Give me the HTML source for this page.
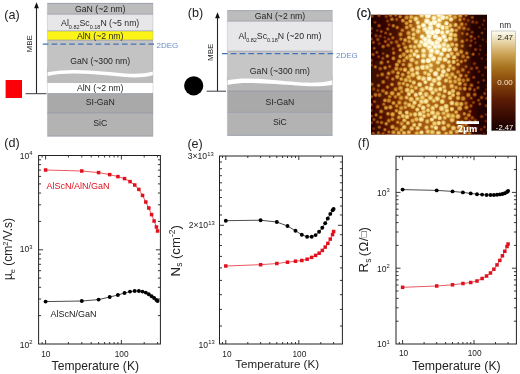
<!DOCTYPE html>
<html lang="en"><head><meta charset="utf-8"><title>Figure</title>
<style>html,body{margin:0;padding:0;background:#fff;}body{width:520px;height:374px;overflow:hidden;}svg{display:block;font-family:'Liberation Sans', sans-serif;filter:blur(0.35px);}</style>
</head><body>
<svg width="520" height="374" viewBox="0 0 520 374">
<defs>
<linearGradient id="cbar" x1="0" y1="0" x2="0" y2="1"><stop offset="0" stop-color="#fffdf4"/><stop offset="0.10" stop-color="#ead9ae"/><stop offset="0.22" stop-color="#cfa75c"/><stop offset="0.36" stop-color="#a8741f"/><stop offset="0.5" stop-color="#8a4a0c"/><stop offset="0.68" stop-color="#5e1e05"/><stop offset="0.85" stop-color="#380a02"/><stop offset="1" stop-color="#160000"/></linearGradient>
<filter id="bl" x="-10%" y="-10%" width="120%" height="120%"><feGaussianBlur stdDeviation="3"/></filter>
<filter id="bs" x="-5%" y="-5%" width="110%" height="110%"><feGaussianBlur stdDeviation="0.6"/></filter>
<clipPath id="afmclip"><rect x="371" y="14.8" width="116" height="119.8"/></clipPath>
</defs>
<rect width="520" height="374" fill="#fff"/>
<g id="panel-a">
<rect x="47.4" y="3" width="105.6" height="11.5" fill="#bcbcbc"/>
<rect x="47.4" y="14.5" width="105.6" height="16.5" fill="#e7e7e9"/>
<rect x="47.4" y="31" width="105.6" height="9" fill="#fbf416"/>
<rect x="47.4" y="82.5" width="105.6" height="11" fill="#ffffff"/>
<rect x="47.4" y="93.5" width="105.6" height="19.5" fill="#a9a9a9"/>
<rect x="47.4" y="113" width="105.6" height="23.3" fill="#b3b3b3"/>
<rect x="47.4" y="68" width="105.6" height="15" fill="#bcbcbc"/>
<path d="M47.4,40 L47.4,72.8 C57,71.1 66,70.4 75,70.5 C95,70.9 113,72.7 125,73.9 C136,74.9 145,74.1 153,72.1 L153,40 Z" fill="#c3c3c3"/>
<path d="M47.4,72.3 C57,70.6 66,69.9 75,70 C95,70.4 113,72.2 125,73.4 C136,74.4 145,73.6 153,71.6 L153,75.2 C145,77.3 136,78 125,77 C113,75.9 95,74 75,73.6 C66,73.5 57,74.2 47.4,75.9 Z" fill="#fff"/>
<line x1="47.4" y1="3.4" x2="153.0" y2="3.4" stroke="#8f96a6" stroke-width="0.7"/>
<line x1="47.4" y1="14.2" x2="153.0" y2="14.2" stroke="#8f96a6" stroke-width="0.7"/>
<line x1="47.4" y1="30.9" x2="153.0" y2="30.9" stroke="#8f96a6" stroke-width="0.7"/>
<line x1="47.4" y1="40.1" x2="153.0" y2="40.1" stroke="#8f96a6" stroke-width="0.7"/>
<line x1="47.4" y1="93.6" x2="153.0" y2="93.6" stroke="#8f96a6" stroke-width="0.7"/>
<line x1="47.4" y1="112.9" x2="153.0" y2="112.9" stroke="#8f96a6" stroke-width="0.7"/>
<line x1="47.4" y1="136.1" x2="153.0" y2="136.1" stroke="#8f96a6" stroke-width="0.7"/>
<line x1="47.4" y1="3" x2="47.4" y2="136.3" stroke="#8f96a6" stroke-width="0.5" stroke-opacity="0.6"/>
<line x1="153.0" y1="3" x2="153.0" y2="136.3" stroke="#8f96a6" stroke-width="0.5" stroke-opacity="0.6"/>
<line x1="42.8" y1="44.2" x2="155" y2="44.2" stroke="#4273b6" stroke-width="1.25" stroke-dasharray="5.6 3.2"/>
<text x="156.5" y="48.0" font-size="8" fill="#6a8cc4" text-anchor="start" >2DEG</text>
<text x="100.2" y="12.0" font-size="8.7" fill="#262626" text-anchor="middle" >GaN (~2 nm)</text>
<text x="100.2" y="25.8" font-size="8.7" fill="#262626" text-anchor="middle">Al<tspan font-size="5.5" dy="2.8">0.82</tspan><tspan dy="-2.8">Sc</tspan><tspan font-size="5.5" dy="2.8">0.18</tspan><tspan dy="-2.8">N (~5 nm)</tspan></text>
<text x="100.2" y="38.6" font-size="8.7" fill="#262626" text-anchor="middle" >AlN (~2 nm)</text>
<text x="100.2" y="64.0" font-size="8.7" fill="#262626" text-anchor="middle" >GaN (~300 nm)</text>
<text x="100.2" y="91.1" font-size="8.7" fill="#262626" text-anchor="middle" >AlN (~2 nm)</text>
<text x="100.2" y="105.2" font-size="8.7" fill="#262626" text-anchor="middle" >SI-GaN</text>
<text x="100.2" y="125.7" font-size="8.7" fill="#262626" text-anchor="middle" >SiC</text>
<line x1="36.5" y1="93.7" x2="36.5" y2="7" stroke="#262626" stroke-width="1.1"/>
<path d="M36.5,2.2 L38.9,8.2 L34.1,8.2 Z" fill="#111"/>
<line x1="25.6" y1="93.7" x2="46.5" y2="93.7" stroke="#3c3c44" stroke-width="1"/>
<text transform="translate(32.4,52.4) rotate(-90)" font-size="8" fill="#222">MBE</text>
<rect x="5.6" y="80" width="16.4" height="18" fill="#fb0006"/>
<text x="4.3" y="19.2" font-size="12.6" fill="#222" text-anchor="start" >(a)</text>
</g>
<g id="panel-b">
<rect x="227.4" y="10.4" width="104.99999999999997" height="10.8" fill="#bcbcbc"/>
<rect x="227.4" y="21.2" width="104.99999999999997" height="30" fill="#e7e7e9"/>
<rect x="227.4" y="91" width="104.99999999999997" height="21.4" fill="#a9a9a9"/>
<rect x="227.4" y="112.4" width="104.99999999999997" height="23.2" fill="#b3b3b3"/>
<rect x="227.4" y="76" width="104.99999999999997" height="15" fill="#b7b7b7"/>
<path d="M227.4,51.2 L227.4,80.8 C234,79.5 241,78.9 248,79 C266,79.4 284,81.7 296,82.6 C306,83.4 320,84.1 332.4,80.8 L332.4,51.2 Z" fill="#c6c6c6"/>
<path d="M227.4,80.3 C234,79 241,78.4 248,78.5 C266,78.9 284,81.2 296,82.1 C306,82.9 320,83.6 332.4,80.3 L332.4,85 C320,87 306,86.2 296,85.5 C284,84.6 266,83.2 248,83 C241,83 234,83.6 227.4,84.9 Z" fill="#fff"/>
<line x1="227.4" y1="10.6" x2="332.4" y2="10.6" stroke="#8f96a6" stroke-width="0.7"/>
<line x1="227.4" y1="21.2" x2="332.4" y2="21.2" stroke="#8f96a6" stroke-width="0.7"/>
<line x1="227.4" y1="51.2" x2="332.4" y2="51.2" stroke="#8f96a6" stroke-width="0.7"/>
<line x1="227.4" y1="91" x2="332.4" y2="91" stroke="#8f96a6" stroke-width="0.7"/>
<line x1="227.4" y1="112.4" x2="332.4" y2="112.4" stroke="#8f96a6" stroke-width="0.7"/>
<line x1="227.4" y1="135.4" x2="332.4" y2="135.4" stroke="#8f96a6" stroke-width="0.7"/>
<line x1="227.4" y1="10.4" x2="227.4" y2="135.6" stroke="#8f96a6" stroke-width="0.5" stroke-opacity="0.6"/>
<line x1="332.4" y1="10.4" x2="332.4" y2="135.6" stroke="#8f96a6" stroke-width="0.5" stroke-opacity="0.6"/>
<line x1="222" y1="53.7" x2="334.5" y2="53.7" stroke="#4273b6" stroke-width="1.25" stroke-dasharray="5.6 3.2"/>
<text x="336.0" y="57.8" font-size="8" fill="#6a8cc4" text-anchor="start" >2DEG</text>
<text x="279.9" y="19.1" font-size="8.7" fill="#262626" text-anchor="middle" >GaN (~2 nm)</text>
<text x="279.9" y="39.4" font-size="8.7" fill="#262626" text-anchor="middle">Al<tspan font-size="5.5" dy="2.8">0.82</tspan><tspan dy="-2.8">Sc</tspan><tspan font-size="5.5" dy="2.8">0.18</tspan><tspan dy="-2.8">N (~20 nm)</tspan></text>
<text x="279.9" y="73.8" font-size="8.7" fill="#262626" text-anchor="middle" >GaN (~300 nm)</text>
<text x="279.9" y="105.2" font-size="8.7" fill="#262626" text-anchor="middle" >SI-GaN</text>
<text x="279.9" y="125.2" font-size="8.7" fill="#262626" text-anchor="middle" >SiC</text>
<line x1="217.5" y1="91" x2="217.5" y2="17" stroke="#262626" stroke-width="1.1"/>
<path d="M217.5,12.3 L219.9,18.2 L215.1,18.2 Z" fill="#111"/>
<line x1="206.6" y1="91.2" x2="226" y2="91.2" stroke="#3c3c44" stroke-width="1"/>
<text transform="translate(213,61) rotate(-90)" font-size="8" fill="#222">MBE</text>
<circle cx="193.7" cy="85.8" r="9.6" fill="#000"/>
<text x="187.8" y="17.0" font-size="12.6" fill="#222" text-anchor="start" >(b)</text>
</g>
<g id="panel-c">
<g clip-path="url(#afmclip)">
<rect x="371" y="14.8" width="116" height="119.8" fill="#8a4a0c"/>
<g filter="url(#bl)">
<rect x="363" y="6.800000000000001" width="6" height="6" fill="#1d0100"/>
<rect x="369" y="6.800000000000001" width="6" height="6" fill="#1e0100"/>
<rect x="375" y="6.800000000000001" width="6" height="6" fill="#250300"/>
<rect x="381" y="6.800000000000001" width="6" height="6" fill="#2d0500"/>
<rect x="387" y="6.800000000000001" width="6" height="6" fill="#350700"/>
<rect x="393" y="6.800000000000001" width="6" height="6" fill="#400a00"/>
<rect x="399" y="6.800000000000001" width="6" height="6" fill="#571701"/>
<rect x="405" y="6.800000000000001" width="6" height="6" fill="#742804"/>
<rect x="411" y="6.800000000000001" width="6" height="6" fill="#9e5211"/>
<rect x="417" y="6.800000000000001" width="6" height="6" fill="#ba7822"/>
<rect x="423" y="6.800000000000001" width="6" height="6" fill="#ce9535"/>
<rect x="429" y="6.800000000000001" width="6" height="6" fill="#d5a141"/>
<rect x="435" y="6.800000000000001" width="6" height="6" fill="#d39e3e"/>
<rect x="441" y="6.800000000000001" width="6" height="6" fill="#c78a2b"/>
<rect x="447" y="6.800000000000001" width="6" height="6" fill="#ac6519"/>
<rect x="453" y="6.800000000000001" width="6" height="6" fill="#833709"/>
<rect x="459" y="6.800000000000001" width="6" height="6" fill="#511301"/>
<rect x="465" y="6.800000000000001" width="6" height="6" fill="#330700"/>
<rect x="471" y="6.800000000000001" width="6" height="6" fill="#1d0100"/>
<rect x="477" y="6.800000000000001" width="6" height="6" fill="#1a0000"/>
<rect x="483" y="6.800000000000001" width="6" height="6" fill="#1a0000"/>
<rect x="489" y="6.800000000000001" width="6" height="6" fill="#1a0000"/>
<rect x="363" y="12.8" width="6" height="6" fill="#1d0100"/>
<rect x="369" y="12.8" width="6" height="6" fill="#1e0100"/>
<rect x="375" y="12.8" width="6" height="6" fill="#250300"/>
<rect x="381" y="12.8" width="6" height="6" fill="#2d0500"/>
<rect x="387" y="12.8" width="6" height="6" fill="#350700"/>
<rect x="393" y="12.8" width="6" height="6" fill="#400a00"/>
<rect x="399" y="12.8" width="6" height="6" fill="#571701"/>
<rect x="405" y="12.8" width="6" height="6" fill="#742804"/>
<rect x="411" y="12.8" width="6" height="6" fill="#9e5211"/>
<rect x="417" y="12.8" width="6" height="6" fill="#ba7822"/>
<rect x="423" y="12.8" width="6" height="6" fill="#ce9535"/>
<rect x="429" y="12.8" width="6" height="6" fill="#d5a141"/>
<rect x="435" y="12.8" width="6" height="6" fill="#d39e3e"/>
<rect x="441" y="12.8" width="6" height="6" fill="#c78a2b"/>
<rect x="447" y="12.8" width="6" height="6" fill="#ac6519"/>
<rect x="453" y="12.8" width="6" height="6" fill="#833709"/>
<rect x="459" y="12.8" width="6" height="6" fill="#511301"/>
<rect x="465" y="12.8" width="6" height="6" fill="#330700"/>
<rect x="471" y="12.8" width="6" height="6" fill="#1d0100"/>
<rect x="477" y="12.8" width="6" height="6" fill="#1a0000"/>
<rect x="483" y="12.8" width="6" height="6" fill="#1a0000"/>
<rect x="489" y="12.8" width="6" height="6" fill="#1a0000"/>
<rect x="363" y="18.8" width="6" height="6" fill="#1d0100"/>
<rect x="369" y="18.8" width="6" height="6" fill="#1e0100"/>
<rect x="375" y="18.8" width="6" height="6" fill="#260300"/>
<rect x="381" y="18.8" width="6" height="6" fill="#2d0500"/>
<rect x="387" y="18.8" width="6" height="6" fill="#360700"/>
<rect x="393" y="18.8" width="6" height="6" fill="#410b00"/>
<rect x="399" y="18.8" width="6" height="6" fill="#581702"/>
<rect x="405" y="18.8" width="6" height="6" fill="#762a05"/>
<rect x="411" y="18.8" width="6" height="6" fill="#9f5311"/>
<rect x="417" y="18.8" width="6" height="6" fill="#bb7a23"/>
<rect x="423" y="18.8" width="6" height="6" fill="#cf9737"/>
<rect x="429" y="18.8" width="6" height="6" fill="#d6a242"/>
<rect x="435" y="18.8" width="6" height="6" fill="#d49f3f"/>
<rect x="441" y="18.8" width="6" height="6" fill="#c88b2c"/>
<rect x="447" y="18.8" width="6" height="6" fill="#ad6619"/>
<rect x="453" y="18.8" width="6" height="6" fill="#833709"/>
<rect x="459" y="18.8" width="6" height="6" fill="#511301"/>
<rect x="465" y="18.8" width="6" height="6" fill="#330700"/>
<rect x="471" y="18.8" width="6" height="6" fill="#1d0100"/>
<rect x="477" y="18.8" width="6" height="6" fill="#1a0000"/>
<rect x="483" y="18.8" width="6" height="6" fill="#1a0000"/>
<rect x="489" y="18.8" width="6" height="6" fill="#1a0000"/>
<rect x="363" y="24.8" width="6" height="6" fill="#1f0100"/>
<rect x="369" y="24.8" width="6" height="6" fill="#200200"/>
<rect x="375" y="24.8" width="6" height="6" fill="#270300"/>
<rect x="381" y="24.8" width="6" height="6" fill="#2e0500"/>
<rect x="387" y="24.8" width="6" height="6" fill="#370800"/>
<rect x="393" y="24.8" width="6" height="6" fill="#430c00"/>
<rect x="399" y="24.8" width="6" height="6" fill="#5a1802"/>
<rect x="405" y="24.8" width="6" height="6" fill="#782c06"/>
<rect x="411" y="24.8" width="6" height="6" fill="#a25612"/>
<rect x="417" y="24.8" width="6" height="6" fill="#be7d25"/>
<rect x="423" y="24.8" width="6" height="6" fill="#d09a3a"/>
<rect x="429" y="24.8" width="6" height="6" fill="#d7a545"/>
<rect x="435" y="24.8" width="6" height="6" fill="#d5a242"/>
<rect x="441" y="24.8" width="6" height="6" fill="#c98e2e"/>
<rect x="447" y="24.8" width="6" height="6" fill="#ae671a"/>
<rect x="453" y="24.8" width="6" height="6" fill="#843809"/>
<rect x="459" y="24.8" width="6" height="6" fill="#511301"/>
<rect x="465" y="24.8" width="6" height="6" fill="#330700"/>
<rect x="471" y="24.8" width="6" height="6" fill="#1d0100"/>
<rect x="477" y="24.8" width="6" height="6" fill="#1a0000"/>
<rect x="483" y="24.8" width="6" height="6" fill="#1a0000"/>
<rect x="489" y="24.8" width="6" height="6" fill="#1a0000"/>
<rect x="363" y="30.8" width="6" height="6" fill="#200200"/>
<rect x="369" y="30.8" width="6" height="6" fill="#210200"/>
<rect x="375" y="30.8" width="6" height="6" fill="#280400"/>
<rect x="381" y="30.8" width="6" height="6" fill="#300600"/>
<rect x="387" y="30.8" width="6" height="6" fill="#380800"/>
<rect x="393" y="30.8" width="6" height="6" fill="#450d00"/>
<rect x="399" y="30.8" width="6" height="6" fill="#5d1a02"/>
<rect x="405" y="30.8" width="6" height="6" fill="#7b2f06"/>
<rect x="411" y="30.8" width="6" height="6" fill="#a55a14"/>
<rect x="417" y="30.8" width="6" height="6" fill="#c08127"/>
<rect x="423" y="30.8" width="6" height="6" fill="#d29d3d"/>
<rect x="429" y="30.8" width="6" height="6" fill="#d9a848"/>
<rect x="435" y="30.8" width="6" height="6" fill="#d7a444"/>
<rect x="441" y="30.8" width="6" height="6" fill="#ca9030"/>
<rect x="447" y="30.8" width="6" height="6" fill="#b06a1b"/>
<rect x="453" y="30.8" width="6" height="6" fill="#853909"/>
<rect x="459" y="30.8" width="6" height="6" fill="#521401"/>
<rect x="465" y="30.8" width="6" height="6" fill="#330700"/>
<rect x="471" y="30.8" width="6" height="6" fill="#1d0100"/>
<rect x="477" y="30.8" width="6" height="6" fill="#1a0000"/>
<rect x="483" y="30.8" width="6" height="6" fill="#1a0000"/>
<rect x="489" y="30.8" width="6" height="6" fill="#1a0000"/>
<rect x="363" y="36.8" width="6" height="6" fill="#210200"/>
<rect x="369" y="36.8" width="6" height="6" fill="#220200"/>
<rect x="375" y="36.8" width="6" height="6" fill="#290400"/>
<rect x="381" y="36.8" width="6" height="6" fill="#310600"/>
<rect x="387" y="36.8" width="6" height="6" fill="#390800"/>
<rect x="393" y="36.8" width="6" height="6" fill="#460d00"/>
<rect x="399" y="36.8" width="6" height="6" fill="#5f1b02"/>
<rect x="405" y="36.8" width="6" height="6" fill="#7e3207"/>
<rect x="411" y="36.8" width="6" height="6" fill="#a75d15"/>
<rect x="417" y="36.8" width="6" height="6" fill="#c38428"/>
<rect x="423" y="36.8" width="6" height="6" fill="#d4a040"/>
<rect x="429" y="36.8" width="6" height="6" fill="#dbab4b"/>
<rect x="435" y="36.8" width="6" height="6" fill="#d8a646"/>
<rect x="441" y="36.8" width="6" height="6" fill="#cb9232"/>
<rect x="447" y="36.8" width="6" height="6" fill="#b16b1c"/>
<rect x="453" y="36.8" width="6" height="6" fill="#863a0a"/>
<rect x="459" y="36.8" width="6" height="6" fill="#521401"/>
<rect x="465" y="36.8" width="6" height="6" fill="#330700"/>
<rect x="471" y="36.8" width="6" height="6" fill="#1d0100"/>
<rect x="477" y="36.8" width="6" height="6" fill="#1a0000"/>
<rect x="483" y="36.8" width="6" height="6" fill="#1a0000"/>
<rect x="489" y="36.8" width="6" height="6" fill="#1a0000"/>
<rect x="363" y="42.8" width="6" height="6" fill="#210200"/>
<rect x="369" y="42.8" width="6" height="6" fill="#230200"/>
<rect x="375" y="42.8" width="6" height="6" fill="#2a0400"/>
<rect x="381" y="42.8" width="6" height="6" fill="#310600"/>
<rect x="387" y="42.8" width="6" height="6" fill="#3a0800"/>
<rect x="393" y="42.8" width="6" height="6" fill="#470e00"/>
<rect x="399" y="42.8" width="6" height="6" fill="#5f1b02"/>
<rect x="405" y="42.8" width="6" height="6" fill="#7e3207"/>
<rect x="411" y="42.8" width="6" height="6" fill="#a75e16"/>
<rect x="417" y="42.8" width="6" height="6" fill="#c38529"/>
<rect x="423" y="42.8" width="6" height="6" fill="#d4a040"/>
<rect x="429" y="42.8" width="6" height="6" fill="#dbab4b"/>
<rect x="435" y="42.8" width="6" height="6" fill="#d8a747"/>
<rect x="441" y="42.8" width="6" height="6" fill="#cc9232"/>
<rect x="447" y="42.8" width="6" height="6" fill="#b16c1c"/>
<rect x="453" y="42.8" width="6" height="6" fill="#873b0a"/>
<rect x="459" y="42.8" width="6" height="6" fill="#521401"/>
<rect x="465" y="42.8" width="6" height="6" fill="#330700"/>
<rect x="471" y="42.8" width="6" height="6" fill="#1d0100"/>
<rect x="477" y="42.8" width="6" height="6" fill="#1a0000"/>
<rect x="483" y="42.8" width="6" height="6" fill="#1a0000"/>
<rect x="489" y="42.8" width="6" height="6" fill="#1a0000"/>
<rect x="363" y="48.8" width="6" height="6" fill="#240300"/>
<rect x="369" y="48.8" width="6" height="6" fill="#250300"/>
<rect x="375" y="48.8" width="6" height="6" fill="#2c0500"/>
<rect x="381" y="48.8" width="6" height="6" fill="#340700"/>
<rect x="387" y="48.8" width="6" height="6" fill="#3d0900"/>
<rect x="393" y="48.8" width="6" height="6" fill="#4b1001"/>
<rect x="399" y="48.8" width="6" height="6" fill="#621d02"/>
<rect x="405" y="48.8" width="6" height="6" fill="#803408"/>
<rect x="411" y="48.8" width="6" height="6" fill="#a65c15"/>
<rect x="417" y="48.8" width="6" height="6" fill="#c08127"/>
<rect x="423" y="48.8" width="6" height="6" fill="#d19a3a"/>
<rect x="429" y="48.8" width="6" height="6" fill="#d7a444"/>
<rect x="435" y="48.8" width="6" height="6" fill="#d4a040"/>
<rect x="441" y="48.8" width="6" height="6" fill="#c88c2c"/>
<rect x="447" y="48.8" width="6" height="6" fill="#af681b"/>
<rect x="453" y="48.8" width="6" height="6" fill="#863a09"/>
<rect x="459" y="48.8" width="6" height="6" fill="#531401"/>
<rect x="465" y="48.8" width="6" height="6" fill="#340700"/>
<rect x="471" y="48.8" width="6" height="6" fill="#1e0100"/>
<rect x="477" y="48.8" width="6" height="6" fill="#1a0000"/>
<rect x="483" y="48.8" width="6" height="6" fill="#1a0000"/>
<rect x="489" y="48.8" width="6" height="6" fill="#1a0000"/>
<rect x="363" y="54.8" width="6" height="6" fill="#2a0400"/>
<rect x="369" y="54.8" width="6" height="6" fill="#2b0400"/>
<rect x="375" y="54.8" width="6" height="6" fill="#320600"/>
<rect x="381" y="54.8" width="6" height="6" fill="#390800"/>
<rect x="387" y="54.8" width="6" height="6" fill="#430c00"/>
<rect x="393" y="54.8" width="6" height="6" fill="#521401"/>
<rect x="399" y="54.8" width="6" height="6" fill="#692003"/>
<rect x="405" y="54.8" width="6" height="6" fill="#843809"/>
<rect x="411" y="54.8" width="6" height="6" fill="#a55a14"/>
<rect x="417" y="54.8" width="6" height="6" fill="#ba7923"/>
<rect x="423" y="54.8" width="6" height="6" fill="#ca8f2f"/>
<rect x="429" y="54.8" width="6" height="6" fill="#cf9737"/>
<rect x="435" y="54.8" width="6" height="6" fill="#cc9333"/>
<rect x="441" y="54.8" width="6" height="6" fill="#bf8026"/>
<rect x="447" y="54.8" width="6" height="6" fill="#aa6117"/>
<rect x="453" y="54.8" width="6" height="6" fill="#843809"/>
<rect x="459" y="54.8" width="6" height="6" fill="#561601"/>
<rect x="465" y="54.8" width="6" height="6" fill="#370800"/>
<rect x="471" y="54.8" width="6" height="6" fill="#200200"/>
<rect x="477" y="54.8" width="6" height="6" fill="#1a0000"/>
<rect x="483" y="54.8" width="6" height="6" fill="#1a0000"/>
<rect x="489" y="54.8" width="6" height="6" fill="#1a0000"/>
<rect x="363" y="60.8" width="6" height="6" fill="#300600"/>
<rect x="369" y="60.8" width="6" height="6" fill="#310600"/>
<rect x="375" y="60.8" width="6" height="6" fill="#370800"/>
<rect x="381" y="60.8" width="6" height="6" fill="#3f0a00"/>
<rect x="387" y="60.8" width="6" height="6" fill="#4b1001"/>
<rect x="393" y="60.8" width="6" height="6" fill="#5a1802"/>
<rect x="399" y="60.8" width="6" height="6" fill="#702403"/>
<rect x="405" y="60.8" width="6" height="6" fill="#883c0a"/>
<rect x="411" y="60.8" width="6" height="6" fill="#a35712"/>
<rect x="417" y="60.8" width="6" height="6" fill="#b46f1e"/>
<rect x="423" y="60.8" width="6" height="6" fill="#c08127"/>
<rect x="429" y="60.8" width="6" height="6" fill="#c5872a"/>
<rect x="435" y="60.8" width="6" height="6" fill="#c18227"/>
<rect x="441" y="60.8" width="6" height="6" fill="#b5721f"/>
<rect x="447" y="60.8" width="6" height="6" fill="#a45913"/>
<rect x="453" y="60.8" width="6" height="6" fill="#823608"/>
<rect x="459" y="60.8" width="6" height="6" fill="#591702"/>
<rect x="465" y="60.8" width="6" height="6" fill="#3a0800"/>
<rect x="471" y="60.8" width="6" height="6" fill="#220200"/>
<rect x="477" y="60.8" width="6" height="6" fill="#1a0000"/>
<rect x="483" y="60.8" width="6" height="6" fill="#1a0000"/>
<rect x="489" y="60.8" width="6" height="6" fill="#1a0000"/>
<rect x="363" y="66.8" width="6" height="6" fill="#350700"/>
<rect x="369" y="66.8" width="6" height="6" fill="#360700"/>
<rect x="375" y="66.8" width="6" height="6" fill="#3c0900"/>
<rect x="381" y="66.8" width="6" height="6" fill="#440c00"/>
<rect x="387" y="66.8" width="6" height="6" fill="#511301"/>
<rect x="393" y="66.8" width="6" height="6" fill="#611c02"/>
<rect x="399" y="66.8" width="6" height="6" fill="#752905"/>
<rect x="405" y="66.8" width="6" height="6" fill="#8b3f0b"/>
<rect x="411" y="66.8" width="6" height="6" fill="#a15512"/>
<rect x="417" y="66.8" width="6" height="6" fill="#af681b"/>
<rect x="423" y="66.8" width="6" height="6" fill="#b87521"/>
<rect x="429" y="66.8" width="6" height="6" fill="#bb7a23"/>
<rect x="435" y="66.8" width="6" height="6" fill="#b77421"/>
<rect x="441" y="66.8" width="6" height="6" fill="#ae671a"/>
<rect x="447" y="66.8" width="6" height="6" fill="#9f5311"/>
<rect x="453" y="66.8" width="6" height="6" fill="#803408"/>
<rect x="459" y="66.8" width="6" height="6" fill="#5b1902"/>
<rect x="465" y="66.8" width="6" height="6" fill="#3c0900"/>
<rect x="471" y="66.8" width="6" height="6" fill="#240300"/>
<rect x="477" y="66.8" width="6" height="6" fill="#1a0000"/>
<rect x="483" y="66.8" width="6" height="6" fill="#1a0000"/>
<rect x="489" y="66.8" width="6" height="6" fill="#1a0000"/>
<rect x="363" y="72.8" width="6" height="6" fill="#360700"/>
<rect x="369" y="72.8" width="6" height="6" fill="#370800"/>
<rect x="375" y="72.8" width="6" height="6" fill="#3d0900"/>
<rect x="381" y="72.8" width="6" height="6" fill="#460d00"/>
<rect x="387" y="72.8" width="6" height="6" fill="#531501"/>
<rect x="393" y="72.8" width="6" height="6" fill="#631d02"/>
<rect x="399" y="72.8" width="6" height="6" fill="#772b05"/>
<rect x="405" y="72.8" width="6" height="6" fill="#8c400b"/>
<rect x="411" y="72.8" width="6" height="6" fill="#a05411"/>
<rect x="417" y="72.8" width="6" height="6" fill="#ad661a"/>
<rect x="423" y="72.8" width="6" height="6" fill="#b6721f"/>
<rect x="429" y="72.8" width="6" height="6" fill="#b87521"/>
<rect x="435" y="72.8" width="6" height="6" fill="#b4701f"/>
<rect x="441" y="72.8" width="6" height="6" fill="#ab6318"/>
<rect x="447" y="72.8" width="6" height="6" fill="#9d5110"/>
<rect x="453" y="72.8" width="6" height="6" fill="#7f3308"/>
<rect x="459" y="72.8" width="6" height="6" fill="#5c1902"/>
<rect x="465" y="72.8" width="6" height="6" fill="#3d0900"/>
<rect x="471" y="72.8" width="6" height="6" fill="#250300"/>
<rect x="477" y="72.8" width="6" height="6" fill="#1a0000"/>
<rect x="483" y="72.8" width="6" height="6" fill="#1a0000"/>
<rect x="489" y="72.8" width="6" height="6" fill="#1a0000"/>
<rect x="363" y="78.8" width="6" height="6" fill="#350700"/>
<rect x="369" y="78.8" width="6" height="6" fill="#360700"/>
<rect x="375" y="78.8" width="6" height="6" fill="#3e0900"/>
<rect x="381" y="78.8" width="6" height="6" fill="#470e00"/>
<rect x="387" y="78.8" width="6" height="6" fill="#561601"/>
<rect x="393" y="78.8" width="6" height="6" fill="#651e02"/>
<rect x="399" y="78.8" width="6" height="6" fill="#792d06"/>
<rect x="405" y="78.8" width="6" height="6" fill="#8d410c"/>
<rect x="411" y="78.8" width="6" height="6" fill="#a05411"/>
<rect x="417" y="78.8" width="6" height="6" fill="#ac6419"/>
<rect x="423" y="78.8" width="6" height="6" fill="#b4701e"/>
<rect x="429" y="78.8" width="6" height="6" fill="#b67320"/>
<rect x="435" y="78.8" width="6" height="6" fill="#b36e1e"/>
<rect x="441" y="78.8" width="6" height="6" fill="#aa6218"/>
<rect x="447" y="78.8" width="6" height="6" fill="#9d5110"/>
<rect x="453" y="78.8" width="6" height="6" fill="#803408"/>
<rect x="459" y="78.8" width="6" height="6" fill="#5e1a02"/>
<rect x="465" y="78.8" width="6" height="6" fill="#3e0a00"/>
<rect x="471" y="78.8" width="6" height="6" fill="#260300"/>
<rect x="477" y="78.8" width="6" height="6" fill="#1a0000"/>
<rect x="483" y="78.8" width="6" height="6" fill="#1a0000"/>
<rect x="489" y="78.8" width="6" height="6" fill="#1a0000"/>
<rect x="363" y="84.8" width="6" height="6" fill="#330700"/>
<rect x="369" y="84.8" width="6" height="6" fill="#350700"/>
<rect x="375" y="84.8" width="6" height="6" fill="#3e0a00"/>
<rect x="381" y="84.8" width="6" height="6" fill="#4b1001"/>
<rect x="387" y="84.8" width="6" height="6" fill="#5a1802"/>
<rect x="393" y="84.8" width="6" height="6" fill="#6a2103"/>
<rect x="399" y="84.8" width="6" height="6" fill="#7e3207"/>
<rect x="405" y="84.8" width="6" height="6" fill="#90440d"/>
<rect x="411" y="84.8" width="6" height="6" fill="#a05411"/>
<rect x="417" y="84.8" width="6" height="6" fill="#aa6218"/>
<rect x="423" y="84.8" width="6" height="6" fill="#b16b1c"/>
<rect x="429" y="84.8" width="6" height="6" fill="#b36e1e"/>
<rect x="435" y="84.8" width="6" height="6" fill="#b06a1c"/>
<rect x="441" y="84.8" width="6" height="6" fill="#a96017"/>
<rect x="447" y="84.8" width="6" height="6" fill="#9d5110"/>
<rect x="453" y="84.8" width="6" height="6" fill="#833709"/>
<rect x="459" y="84.8" width="6" height="6" fill="#621c02"/>
<rect x="465" y="84.8" width="6" height="6" fill="#420b00"/>
<rect x="471" y="84.8" width="6" height="6" fill="#290400"/>
<rect x="477" y="84.8" width="6" height="6" fill="#1b0000"/>
<rect x="483" y="84.8" width="6" height="6" fill="#1a0000"/>
<rect x="489" y="84.8" width="6" height="6" fill="#1a0000"/>
<rect x="363" y="90.8" width="6" height="6" fill="#310600"/>
<rect x="369" y="90.8" width="6" height="6" fill="#330700"/>
<rect x="375" y="90.8" width="6" height="6" fill="#3f0a00"/>
<rect x="381" y="90.8" width="6" height="6" fill="#4e1201"/>
<rect x="387" y="90.8" width="6" height="6" fill="#5e1a02"/>
<rect x="393" y="90.8" width="6" height="6" fill="#6f2303"/>
<rect x="399" y="90.8" width="6" height="6" fill="#823609"/>
<rect x="405" y="90.8" width="6" height="6" fill="#93470e"/>
<rect x="411" y="90.8" width="6" height="6" fill="#a05411"/>
<rect x="417" y="90.8" width="6" height="6" fill="#a85f16"/>
<rect x="423" y="90.8" width="6" height="6" fill="#ad661a"/>
<rect x="429" y="90.8" width="6" height="6" fill="#af691b"/>
<rect x="435" y="90.8" width="6" height="6" fill="#ad661a"/>
<rect x="441" y="90.8" width="6" height="6" fill="#a75d16"/>
<rect x="447" y="90.8" width="6" height="6" fill="#9d5110"/>
<rect x="453" y="90.8" width="6" height="6" fill="#853909"/>
<rect x="459" y="90.8" width="6" height="6" fill="#661f02"/>
<rect x="465" y="90.8" width="6" height="6" fill="#470e00"/>
<rect x="471" y="90.8" width="6" height="6" fill="#2c0500"/>
<rect x="477" y="90.8" width="6" height="6" fill="#1d0100"/>
<rect x="483" y="90.8" width="6" height="6" fill="#1a0000"/>
<rect x="489" y="90.8" width="6" height="6" fill="#1a0000"/>
<rect x="363" y="96.8" width="6" height="6" fill="#300600"/>
<rect x="369" y="96.8" width="6" height="6" fill="#320600"/>
<rect x="375" y="96.8" width="6" height="6" fill="#400a00"/>
<rect x="381" y="96.8" width="6" height="6" fill="#511301"/>
<rect x="387" y="96.8" width="6" height="6" fill="#621c02"/>
<rect x="393" y="96.8" width="6" height="6" fill="#732704"/>
<rect x="399" y="96.8" width="6" height="6" fill="#863a0a"/>
<rect x="405" y="96.8" width="6" height="6" fill="#964a0e"/>
<rect x="411" y="96.8" width="6" height="6" fill="#a05411"/>
<rect x="417" y="96.8" width="6" height="6" fill="#a75d15"/>
<rect x="423" y="96.8" width="6" height="6" fill="#ab6318"/>
<rect x="429" y="96.8" width="6" height="6" fill="#ac6419"/>
<rect x="435" y="96.8" width="6" height="6" fill="#ab6218"/>
<rect x="441" y="96.8" width="6" height="6" fill="#a65b15"/>
<rect x="447" y="96.8" width="6" height="6" fill="#9d5110"/>
<rect x="453" y="96.8" width="6" height="6" fill="#873b0a"/>
<rect x="459" y="96.8" width="6" height="6" fill="#6a2103"/>
<rect x="465" y="96.8" width="6" height="6" fill="#4a1001"/>
<rect x="471" y="96.8" width="6" height="6" fill="#2e0500"/>
<rect x="477" y="96.8" width="6" height="6" fill="#1f0100"/>
<rect x="483" y="96.8" width="6" height="6" fill="#1a0000"/>
<rect x="489" y="96.8" width="6" height="6" fill="#1a0000"/>
<rect x="363" y="102.8" width="6" height="6" fill="#2f0600"/>
<rect x="369" y="102.8" width="6" height="6" fill="#320600"/>
<rect x="375" y="102.8" width="6" height="6" fill="#400a00"/>
<rect x="381" y="102.8" width="6" height="6" fill="#521401"/>
<rect x="387" y="102.8" width="6" height="6" fill="#631d02"/>
<rect x="393" y="102.8" width="6" height="6" fill="#742804"/>
<rect x="399" y="102.8" width="6" height="6" fill="#873b0a"/>
<rect x="405" y="102.8" width="6" height="6" fill="#974b0f"/>
<rect x="411" y="102.8" width="6" height="6" fill="#a05411"/>
<rect x="417" y="102.8" width="6" height="6" fill="#a65c15"/>
<rect x="423" y="102.8" width="6" height="6" fill="#aa6117"/>
<rect x="429" y="102.8" width="6" height="6" fill="#ab6318"/>
<rect x="435" y="102.8" width="6" height="6" fill="#aa6117"/>
<rect x="441" y="102.8" width="6" height="6" fill="#a55b14"/>
<rect x="447" y="102.8" width="6" height="6" fill="#9d5110"/>
<rect x="453" y="102.8" width="6" height="6" fill="#873b0a"/>
<rect x="459" y="102.8" width="6" height="6" fill="#6b2103"/>
<rect x="465" y="102.8" width="6" height="6" fill="#4b1001"/>
<rect x="471" y="102.8" width="6" height="6" fill="#2e0500"/>
<rect x="477" y="102.8" width="6" height="6" fill="#1f0100"/>
<rect x="483" y="102.8" width="6" height="6" fill="#1a0000"/>
<rect x="489" y="102.8" width="6" height="6" fill="#1a0000"/>
<rect x="363" y="108.8" width="6" height="6" fill="#2d0500"/>
<rect x="369" y="108.8" width="6" height="6" fill="#300600"/>
<rect x="375" y="108.8" width="6" height="6" fill="#3f0a00"/>
<rect x="381" y="108.8" width="6" height="6" fill="#511301"/>
<rect x="387" y="108.8" width="6" height="6" fill="#621c02"/>
<rect x="393" y="108.8" width="6" height="6" fill="#732704"/>
<rect x="399" y="108.8" width="6" height="6" fill="#873b0a"/>
<rect x="405" y="108.8" width="6" height="6" fill="#964a0e"/>
<rect x="411" y="108.8" width="6" height="6" fill="#a05411"/>
<rect x="417" y="108.8" width="6" height="6" fill="#a65b15"/>
<rect x="423" y="108.8" width="6" height="6" fill="#a96017"/>
<rect x="429" y="108.8" width="6" height="6" fill="#aa6218"/>
<rect x="435" y="108.8" width="6" height="6" fill="#a96017"/>
<rect x="441" y="108.8" width="6" height="6" fill="#a55a14"/>
<rect x="447" y="108.8" width="6" height="6" fill="#9c5010"/>
<rect x="453" y="108.8" width="6" height="6" fill="#873b0a"/>
<rect x="459" y="108.8" width="6" height="6" fill="#6b2103"/>
<rect x="465" y="108.8" width="6" height="6" fill="#4b1001"/>
<rect x="471" y="108.8" width="6" height="6" fill="#2e0500"/>
<rect x="477" y="108.8" width="6" height="6" fill="#1f0100"/>
<rect x="483" y="108.8" width="6" height="6" fill="#1a0000"/>
<rect x="489" y="108.8" width="6" height="6" fill="#1a0000"/>
<rect x="363" y="114.8" width="6" height="6" fill="#2a0400"/>
<rect x="369" y="114.8" width="6" height="6" fill="#2c0500"/>
<rect x="375" y="114.8" width="6" height="6" fill="#3c0900"/>
<rect x="381" y="114.8" width="6" height="6" fill="#4e1101"/>
<rect x="387" y="114.8" width="6" height="6" fill="#601b02"/>
<rect x="393" y="114.8" width="6" height="6" fill="#722604"/>
<rect x="399" y="114.8" width="6" height="6" fill="#863a09"/>
<rect x="405" y="114.8" width="6" height="6" fill="#95490e"/>
<rect x="411" y="114.8" width="6" height="6" fill="#9e5211"/>
<rect x="417" y="114.8" width="6" height="6" fill="#a45914"/>
<rect x="423" y="114.8" width="6" height="6" fill="#a75e16"/>
<rect x="429" y="114.8" width="6" height="6" fill="#a95f17"/>
<rect x="435" y="114.8" width="6" height="6" fill="#a85e16"/>
<rect x="441" y="114.8" width="6" height="6" fill="#a45913"/>
<rect x="447" y="114.8" width="6" height="6" fill="#9b4f10"/>
<rect x="453" y="114.8" width="6" height="6" fill="#873b0a"/>
<rect x="459" y="114.8" width="6" height="6" fill="#6b2103"/>
<rect x="465" y="114.8" width="6" height="6" fill="#4b1001"/>
<rect x="471" y="114.8" width="6" height="6" fill="#2e0500"/>
<rect x="477" y="114.8" width="6" height="6" fill="#1f0100"/>
<rect x="483" y="114.8" width="6" height="6" fill="#1a0000"/>
<rect x="489" y="114.8" width="6" height="6" fill="#1a0000"/>
<rect x="363" y="120.8" width="6" height="6" fill="#250300"/>
<rect x="369" y="120.8" width="6" height="6" fill="#280400"/>
<rect x="375" y="120.8" width="6" height="6" fill="#380800"/>
<rect x="381" y="120.8" width="6" height="6" fill="#4a1001"/>
<rect x="387" y="120.8" width="6" height="6" fill="#5d1a02"/>
<rect x="393" y="120.8" width="6" height="6" fill="#702403"/>
<rect x="399" y="120.8" width="6" height="6" fill="#843809"/>
<rect x="405" y="120.8" width="6" height="6" fill="#94480e"/>
<rect x="411" y="120.8" width="6" height="6" fill="#9d5110"/>
<rect x="417" y="120.8" width="6" height="6" fill="#a35713"/>
<rect x="423" y="120.8" width="6" height="6" fill="#a65b14"/>
<rect x="429" y="120.8" width="6" height="6" fill="#a75d15"/>
<rect x="435" y="120.8" width="6" height="6" fill="#a65c15"/>
<rect x="441" y="120.8" width="6" height="6" fill="#a35712"/>
<rect x="447" y="120.8" width="6" height="6" fill="#9a4e10"/>
<rect x="453" y="120.8" width="6" height="6" fill="#863a0a"/>
<rect x="459" y="120.8" width="6" height="6" fill="#6b2103"/>
<rect x="465" y="120.8" width="6" height="6" fill="#4b1001"/>
<rect x="471" y="120.8" width="6" height="6" fill="#2e0500"/>
<rect x="477" y="120.8" width="6" height="6" fill="#1f0100"/>
<rect x="483" y="120.8" width="6" height="6" fill="#1a0000"/>
<rect x="489" y="120.8" width="6" height="6" fill="#1a0000"/>
<rect x="363" y="126.8" width="6" height="6" fill="#220200"/>
<rect x="369" y="126.8" width="6" height="6" fill="#250300"/>
<rect x="375" y="126.8" width="6" height="6" fill="#360700"/>
<rect x="381" y="126.8" width="6" height="6" fill="#480e00"/>
<rect x="387" y="126.8" width="6" height="6" fill="#5b1902"/>
<rect x="393" y="126.8" width="6" height="6" fill="#6f2303"/>
<rect x="399" y="126.8" width="6" height="6" fill="#833709"/>
<rect x="405" y="126.8" width="6" height="6" fill="#93470e"/>
<rect x="411" y="126.8" width="6" height="6" fill="#9b4f10"/>
<rect x="417" y="126.8" width="6" height="6" fill="#a15512"/>
<rect x="423" y="126.8" width="6" height="6" fill="#a45913"/>
<rect x="429" y="126.8" width="6" height="6" fill="#a55b14"/>
<rect x="435" y="126.8" width="6" height="6" fill="#a55b14"/>
<rect x="441" y="126.8" width="6" height="6" fill="#a25612"/>
<rect x="447" y="126.8" width="6" height="6" fill="#9a4e0f"/>
<rect x="453" y="126.8" width="6" height="6" fill="#853909"/>
<rect x="459" y="126.8" width="6" height="6" fill="#6b2103"/>
<rect x="465" y="126.8" width="6" height="6" fill="#4b1001"/>
<rect x="471" y="126.8" width="6" height="6" fill="#2e0500"/>
<rect x="477" y="126.8" width="6" height="6" fill="#1f0100"/>
<rect x="483" y="126.8" width="6" height="6" fill="#1a0000"/>
<rect x="489" y="126.8" width="6" height="6" fill="#1a0000"/>
<rect x="363" y="132.8" width="6" height="6" fill="#210200"/>
<rect x="369" y="132.8" width="6" height="6" fill="#240300"/>
<rect x="375" y="132.8" width="6" height="6" fill="#350700"/>
<rect x="381" y="132.8" width="6" height="6" fill="#470e00"/>
<rect x="387" y="132.8" width="6" height="6" fill="#5b1902"/>
<rect x="393" y="132.8" width="6" height="6" fill="#6f2303"/>
<rect x="399" y="132.8" width="6" height="6" fill="#833709"/>
<rect x="405" y="132.8" width="6" height="6" fill="#93470e"/>
<rect x="411" y="132.8" width="6" height="6" fill="#9b4f10"/>
<rect x="417" y="132.8" width="6" height="6" fill="#a15512"/>
<rect x="423" y="132.8" width="6" height="6" fill="#a45813"/>
<rect x="429" y="132.8" width="6" height="6" fill="#a55a14"/>
<rect x="435" y="132.8" width="6" height="6" fill="#a55a14"/>
<rect x="441" y="132.8" width="6" height="6" fill="#a15512"/>
<rect x="447" y="132.8" width="6" height="6" fill="#994d0f"/>
<rect x="453" y="132.8" width="6" height="6" fill="#853909"/>
<rect x="459" y="132.8" width="6" height="6" fill="#6b2103"/>
<rect x="465" y="132.8" width="6" height="6" fill="#4b1001"/>
<rect x="471" y="132.8" width="6" height="6" fill="#2e0500"/>
<rect x="477" y="132.8" width="6" height="6" fill="#1f0100"/>
<rect x="483" y="132.8" width="6" height="6" fill="#1a0000"/>
<rect x="489" y="132.8" width="6" height="6" fill="#1a0000"/>
<rect x="363" y="138.8" width="6" height="6" fill="#210200"/>
<rect x="369" y="138.8" width="6" height="6" fill="#240300"/>
<rect x="375" y="138.8" width="6" height="6" fill="#350700"/>
<rect x="381" y="138.8" width="6" height="6" fill="#470e00"/>
<rect x="387" y="138.8" width="6" height="6" fill="#5b1902"/>
<rect x="393" y="138.8" width="6" height="6" fill="#6f2303"/>
<rect x="399" y="138.8" width="6" height="6" fill="#833709"/>
<rect x="405" y="138.8" width="6" height="6" fill="#93470e"/>
<rect x="411" y="138.8" width="6" height="6" fill="#9b4f10"/>
<rect x="417" y="138.8" width="6" height="6" fill="#a15512"/>
<rect x="423" y="138.8" width="6" height="6" fill="#a45813"/>
<rect x="429" y="138.8" width="6" height="6" fill="#a55a14"/>
<rect x="435" y="138.8" width="6" height="6" fill="#a55a14"/>
<rect x="441" y="138.8" width="6" height="6" fill="#a15512"/>
<rect x="447" y="138.8" width="6" height="6" fill="#994d0f"/>
<rect x="453" y="138.8" width="6" height="6" fill="#853909"/>
<rect x="459" y="138.8" width="6" height="6" fill="#6b2103"/>
<rect x="465" y="138.8" width="6" height="6" fill="#4b1001"/>
<rect x="471" y="138.8" width="6" height="6" fill="#2e0500"/>
<rect x="477" y="138.8" width="6" height="6" fill="#1f0100"/>
<rect x="483" y="138.8" width="6" height="6" fill="#1a0000"/>
<rect x="489" y="138.8" width="6" height="6" fill="#1a0000"/>
</g>
<g filter="url(#bs)">
<circle cx="408.6" cy="32.9" r="2.5" fill="#b5701f"/>
<circle cx="408.6" cy="32.9" r="1.5" fill="#d8a545"/>
<circle cx="446.5" cy="23.5" r="2.4" fill="#efd283"/>
<circle cx="446.5" cy="23.5" r="1.5" fill="#fefae3"/>
<circle cx="433.2" cy="58.6" r="2.8" fill="#f7e29f"/>
<circle cx="433.2" cy="58.6" r="1.7" fill="#fffce8"/>
<circle cx="377.7" cy="75.6" r="2.1" fill="#611c02"/>
<circle cx="377.7" cy="75.6" r="1.3" fill="#964a0e"/>
<circle cx="375.3" cy="66.8" r="1.9" fill="#843809"/>
<circle cx="375.3" cy="66.8" r="1.1" fill="#b46f1e"/>
<circle cx="379.1" cy="25.7" r="2.1" fill="#661e02"/>
<circle cx="379.1" cy="25.7" r="1.3" fill="#9b4f10"/>
<circle cx="420.2" cy="113.9" r="2.7" fill="#e4ba5a"/>
<circle cx="420.2" cy="113.9" r="1.6" fill="#f8e7ad"/>
<circle cx="385.4" cy="41.5" r="1.9" fill="#782c06"/>
<circle cx="385.4" cy="41.5" r="1.1" fill="#ab6318"/>
<circle cx="443.8" cy="128.3" r="2.6" fill="#d6a444"/>
<circle cx="443.8" cy="128.3" r="1.6" fill="#f0d485"/>
<circle cx="437.9" cy="62.3" r="2.4" fill="#e6be60"/>
<circle cx="437.9" cy="62.3" r="1.4" fill="#f9eab6"/>
<circle cx="484.2" cy="20.4" r="1.6" fill="#4b1001"/>
<circle cx="484.2" cy="20.4" r="1.0" fill="#7e3207"/>
<circle cx="387.7" cy="28.9" r="2.0" fill="#712503"/>
<circle cx="387.7" cy="28.9" r="1.2" fill="#a55a14"/>
<circle cx="406.8" cy="112.6" r="2.2" fill="#daaa4a"/>
<circle cx="406.8" cy="112.6" r="1.3" fill="#f3da90"/>
<circle cx="392.0" cy="84.5" r="2.0" fill="#a85e16"/>
<circle cx="392.0" cy="84.5" r="1.2" fill="#ce9636"/>
<circle cx="445.1" cy="59.4" r="2.6" fill="#e8c166"/>
<circle cx="445.1" cy="59.4" r="1.6" fill="#faedbe"/>
<circle cx="434.5" cy="22.3" r="2.7" fill="#fcf2cc"/>
<circle cx="434.5" cy="22.3" r="1.6" fill="#fffce8"/>
<circle cx="377.9" cy="39.5" r="2.2" fill="#631d02"/>
<circle cx="377.9" cy="39.5" r="1.3" fill="#974b0f"/>
<circle cx="449.9" cy="66.0" r="2.2" fill="#cf9737"/>
<circle cx="449.9" cy="66.0" r="1.3" fill="#eac771"/>
<circle cx="407.4" cy="85.0" r="2.1" fill="#c98e2e"/>
<circle cx="407.4" cy="85.0" r="1.3" fill="#e6bf62"/>
<circle cx="423.6" cy="50.7" r="2.5" fill="#ebc871"/>
<circle cx="423.6" cy="50.7" r="1.5" fill="#fcf2cc"/>
<circle cx="463.1" cy="98.5" r="2.5" fill="#a85f16"/>
<circle cx="463.1" cy="98.5" r="1.5" fill="#ce9636"/>
<circle cx="399.3" cy="83.6" r="2.3" fill="#ae671a"/>
<circle cx="399.3" cy="83.6" r="1.4" fill="#d39e3e"/>
<circle cx="431.9" cy="119.6" r="2.2" fill="#e7c064"/>
<circle cx="431.9" cy="119.6" r="1.3" fill="#faecbb"/>
<circle cx="455.6" cy="49.3" r="2.5" fill="#d29c3c"/>
<circle cx="455.6" cy="49.3" r="1.5" fill="#edcc79"/>
<circle cx="484.7" cy="28.9" r="1.6" fill="#2e0500"/>
<circle cx="484.7" cy="28.9" r="1.0" fill="#5c1902"/>
<circle cx="419.5" cy="105.5" r="2.3" fill="#d5a141"/>
<circle cx="419.5" cy="105.5" r="1.4" fill="#efd181"/>
<circle cx="388.6" cy="73.4" r="2.2" fill="#9c5010"/>
<circle cx="388.6" cy="73.4" r="1.3" fill="#c6892b"/>
<circle cx="375.5" cy="94.9" r="2.3" fill="#8a3e0b"/>
<circle cx="375.5" cy="94.9" r="1.4" fill="#b87621"/>
<circle cx="459.7" cy="83.4" r="2.4" fill="#be7e25"/>
<circle cx="459.7" cy="83.4" r="1.4" fill="#dfb252"/>
<circle cx="451.7" cy="86.0" r="2.5" fill="#cc9232"/>
<circle cx="451.7" cy="86.0" r="1.5" fill="#e8c369"/>
<circle cx="438.3" cy="69.5" r="2.4" fill="#daa949"/>
<circle cx="438.3" cy="69.5" r="1.5" fill="#f3d98e"/>
<circle cx="468.4" cy="128.0" r="2.3" fill="#883c0a"/>
<circle cx="468.4" cy="128.0" r="1.4" fill="#b77420"/>
<circle cx="426.0" cy="94.4" r="2.6" fill="#d8a747"/>
<circle cx="426.0" cy="94.4" r="1.6" fill="#f1d68a"/>
<circle cx="446.1" cy="133.8" r="2.3" fill="#ca9030"/>
<circle cx="446.1" cy="133.8" r="1.4" fill="#e7c065"/>
<circle cx="415.8" cy="94.9" r="2.3" fill="#e3b858"/>
<circle cx="415.8" cy="94.9" r="1.4" fill="#f8e5a9"/>
<circle cx="377.8" cy="106.8" r="2.2" fill="#7b2f06"/>
<circle cx="377.8" cy="106.8" r="1.3" fill="#ad661a"/>
<circle cx="416.4" cy="119.2" r="2.5" fill="#cc9333"/>
<circle cx="416.4" cy="119.2" r="1.5" fill="#e8c369"/>
<circle cx="380.3" cy="68.6" r="2.2" fill="#762a05"/>
<circle cx="380.3" cy="68.6" r="1.3" fill="#a96017"/>
<circle cx="466.0" cy="118.3" r="2.4" fill="#863a0a"/>
<circle cx="466.0" cy="118.3" r="1.5" fill="#b5721f"/>
<circle cx="403.3" cy="64.6" r="2.0" fill="#ae671a"/>
<circle cx="403.3" cy="64.6" r="1.2" fill="#d39e3e"/>
<circle cx="412.6" cy="120.7" r="2.3" fill="#c4872a"/>
<circle cx="412.6" cy="120.7" r="1.4" fill="#e3b959"/>
<circle cx="482.1" cy="32.9" r="1.7" fill="#511301"/>
<circle cx="482.1" cy="32.9" r="1.0" fill="#853909"/>
<circle cx="391.4" cy="42.6" r="2.0" fill="#7a2e06"/>
<circle cx="391.4" cy="42.6" r="1.2" fill="#ac6419"/>
<circle cx="398.1" cy="72.9" r="2.0" fill="#b77420"/>
<circle cx="398.1" cy="72.9" r="1.2" fill="#d9a949"/>
<circle cx="439.3" cy="46.3" r="2.7" fill="#f6e09a"/>
<circle cx="439.3" cy="46.3" r="1.6" fill="#fffce8"/>
<circle cx="371.5" cy="65.0" r="1.9" fill="#5b1902"/>
<circle cx="371.5" cy="65.0" r="1.1" fill="#90440d"/>
<circle cx="413.8" cy="82.6" r="2.3" fill="#d8a646"/>
<circle cx="413.8" cy="82.6" r="1.4" fill="#f1d688"/>
<circle cx="481.6" cy="97.5" r="2.2" fill="#5f1b02"/>
<circle cx="481.6" cy="97.5" r="1.3" fill="#93470e"/>
<circle cx="430.8" cy="88.8" r="2.8" fill="#e8c167"/>
<circle cx="430.8" cy="88.8" r="1.7" fill="#faedbe"/>
<circle cx="416.5" cy="62.6" r="2.3" fill="#d09939"/>
<circle cx="416.5" cy="62.6" r="1.4" fill="#ebca74"/>
<circle cx="383.0" cy="90.8" r="2.4" fill="#853909"/>
<circle cx="383.0" cy="90.8" r="1.4" fill="#b4701f"/>
<circle cx="410.4" cy="21.1" r="2.2" fill="#cc9232"/>
<circle cx="410.4" cy="21.1" r="1.3" fill="#e8c369"/>
<circle cx="371.0" cy="32.9" r="2.0" fill="#430c00"/>
<circle cx="371.0" cy="32.9" r="1.2" fill="#772b05"/>
<circle cx="382.8" cy="58.4" r="2.0" fill="#661f02"/>
<circle cx="382.8" cy="58.4" r="1.2" fill="#9b4f10"/>
<circle cx="374.0" cy="119.5" r="1.9" fill="#621d02"/>
<circle cx="374.0" cy="119.5" r="1.2" fill="#974b0f"/>
<circle cx="442.2" cy="32.6" r="2.5" fill="#f1d587"/>
<circle cx="442.2" cy="32.6" r="1.5" fill="#fffce8"/>
<circle cx="400.3" cy="56.4" r="2.1" fill="#b26d1d"/>
<circle cx="400.3" cy="56.4" r="1.3" fill="#d6a343"/>
<circle cx="413.2" cy="29.5" r="2.4" fill="#cc9333"/>
<circle cx="413.2" cy="29.5" r="1.5" fill="#e8c36a"/>
<circle cx="469.5" cy="133.8" r="2.3" fill="#92460d"/>
<circle cx="469.5" cy="133.8" r="1.4" fill="#bf7f26"/>
<circle cx="425.1" cy="72.8" r="2.4" fill="#d6a343"/>
<circle cx="425.1" cy="72.8" r="1.4" fill="#f0d384"/>
<circle cx="410.7" cy="46.5" r="2.3" fill="#c88b2c"/>
<circle cx="410.7" cy="46.5" r="1.4" fill="#e5bc5e"/>
<circle cx="467.1" cy="34.1" r="1.9" fill="#7b2f06"/>
<circle cx="467.1" cy="34.1" r="1.2" fill="#ad661a"/>
<circle cx="373.7" cy="128.7" r="1.9" fill="#470e00"/>
<circle cx="373.7" cy="128.7" r="1.2" fill="#7b2f06"/>
<circle cx="432.3" cy="32.4" r="2.6" fill="#fdf7da"/>
<circle cx="432.3" cy="32.4" r="1.6" fill="#fffce8"/>
<circle cx="434.0" cy="18.0" r="2.5" fill="#f5dd95"/>
<circle cx="434.0" cy="18.0" r="1.5" fill="#fffce8"/>
<circle cx="432.3" cy="132.0" r="2.6" fill="#d5a141"/>
<circle cx="432.3" cy="132.0" r="1.5" fill="#efd180"/>
<circle cx="471.1" cy="98.2" r="1.9" fill="#6d2203"/>
<circle cx="471.1" cy="98.2" r="1.1" fill="#a25612"/>
<circle cx="390.4" cy="107.3" r="2.3" fill="#b4701f"/>
<circle cx="390.4" cy="107.3" r="1.4" fill="#d7a545"/>
<circle cx="432.8" cy="108.1" r="2.5" fill="#ddae4e"/>
<circle cx="432.8" cy="108.1" r="1.5" fill="#f5dd95"/>
<circle cx="409.2" cy="41.5" r="2.1" fill="#b06a1c"/>
<circle cx="409.2" cy="41.5" r="1.3" fill="#d4a040"/>
<circle cx="465.1" cy="132.8" r="2.2" fill="#ad6619"/>
<circle cx="465.1" cy="132.8" r="1.3" fill="#d29c3c"/>
<circle cx="469.9" cy="111.4" r="2.0" fill="#722603"/>
<circle cx="469.9" cy="111.4" r="1.2" fill="#a65b15"/>
<circle cx="465.9" cy="103.4" r="2.4" fill="#823609"/>
<circle cx="465.9" cy="103.4" r="1.4" fill="#b36e1d"/>
<circle cx="397.3" cy="76.8" r="2.4" fill="#b26d1d"/>
<circle cx="397.3" cy="76.8" r="1.4" fill="#d6a343"/>
<circle cx="374.2" cy="48.3" r="1.8" fill="#651e02"/>
<circle cx="374.2" cy="48.3" r="1.1" fill="#9a4e10"/>
<circle cx="401.1" cy="97.8" r="2.6" fill="#b26d1d"/>
<circle cx="401.1" cy="97.8" r="1.5" fill="#d6a343"/>
<circle cx="481.8" cy="58.5" r="1.7" fill="#390800"/>
<circle cx="481.8" cy="58.5" r="1.0" fill="#6a2103"/>
<circle cx="396.6" cy="42.0" r="2.4" fill="#772b05"/>
<circle cx="396.6" cy="42.0" r="1.4" fill="#aa6117"/>
<circle cx="443.4" cy="122.7" r="2.4" fill="#d7a444"/>
<circle cx="443.4" cy="122.7" r="1.4" fill="#f0d486"/>
<circle cx="468.5" cy="72.2" r="1.8" fill="#682003"/>
<circle cx="468.5" cy="72.2" r="1.1" fill="#9d5111"/>
<circle cx="446.7" cy="110.6" r="2.5" fill="#d9a848"/>
<circle cx="446.7" cy="110.6" r="1.5" fill="#f2d78b"/>
<circle cx="458.0" cy="72.1" r="2.4" fill="#a55a14"/>
<circle cx="458.0" cy="72.1" r="1.5" fill="#cc9232"/>
<circle cx="417.6" cy="128.2" r="2.3" fill="#d8a646"/>
<circle cx="417.6" cy="128.2" r="1.4" fill="#f1d588"/>
<circle cx="455.1" cy="35.2" r="2.3" fill="#ce9636"/>
<circle cx="455.1" cy="35.2" r="1.4" fill="#eac66e"/>
<circle cx="385.7" cy="32.9" r="1.9" fill="#611c02"/>
<circle cx="385.7" cy="32.9" r="1.2" fill="#95490e"/>
<circle cx="388.0" cy="113.8" r="2.0" fill="#a75d15"/>
<circle cx="388.0" cy="113.8" r="1.2" fill="#cd9535"/>
<circle cx="484.7" cy="93.5" r="1.9" fill="#571601"/>
<circle cx="484.7" cy="93.5" r="1.2" fill="#8b3f0b"/>
<circle cx="386.2" cy="16.5" r="2.2" fill="#571601"/>
<circle cx="386.2" cy="16.5" r="1.3" fill="#8b3f0b"/>
<circle cx="432.1" cy="126.6" r="2.2" fill="#d09939"/>
<circle cx="432.1" cy="126.6" r="1.3" fill="#ebc973"/>
<circle cx="421.3" cy="119.2" r="2.6" fill="#e5bc5d"/>
<circle cx="421.3" cy="119.2" r="1.5" fill="#f9e8b1"/>
<circle cx="466.8" cy="40.1" r="2.1" fill="#661f02"/>
<circle cx="466.8" cy="40.1" r="1.2" fill="#9b4f10"/>
<circle cx="400.2" cy="49.9" r="1.9" fill="#ad661a"/>
<circle cx="400.2" cy="49.9" r="1.1" fill="#d29d3d"/>
<circle cx="386.2" cy="123.8" r="2.0" fill="#a35712"/>
<circle cx="386.2" cy="123.8" r="1.2" fill="#ca9030"/>
<circle cx="412.0" cy="69.7" r="2.6" fill="#dbab4b"/>
<circle cx="412.0" cy="69.7" r="1.6" fill="#f3da91"/>
<circle cx="438.7" cy="123.1" r="2.4" fill="#e1b555"/>
<circle cx="438.7" cy="123.1" r="1.5" fill="#f7e3a3"/>
<circle cx="419.8" cy="124.7" r="2.3" fill="#d8a747"/>
<circle cx="419.8" cy="124.7" r="1.4" fill="#f2d78a"/>
<circle cx="429.2" cy="78.5" r="2.7" fill="#efd080"/>
<circle cx="429.2" cy="78.5" r="1.6" fill="#fef9df"/>
<circle cx="422.1" cy="36.7" r="2.4" fill="#f1d588"/>
<circle cx="422.1" cy="36.7" r="1.4" fill="#fffce8"/>
<circle cx="371.5" cy="110.5" r="1.7" fill="#5b1902"/>
<circle cx="371.5" cy="110.5" r="1.0" fill="#90440c"/>
<circle cx="455.1" cy="81.5" r="2.5" fill="#b67220"/>
<circle cx="455.1" cy="81.5" r="1.5" fill="#d9a747"/>
<circle cx="408.8" cy="76.9" r="2.6" fill="#c08026"/>
<circle cx="408.8" cy="76.9" r="1.6" fill="#e0b353"/>
<circle cx="383.3" cy="81.9" r="2.2" fill="#8c400b"/>
<circle cx="383.3" cy="81.9" r="1.3" fill="#ba7722"/>
<circle cx="460.6" cy="75.6" r="2.1" fill="#b36e1d"/>
<circle cx="460.6" cy="75.6" r="1.2" fill="#d6a343"/>
<circle cx="436.2" cy="105.8" r="2.4" fill="#dbac4c"/>
<circle cx="436.2" cy="105.8" r="1.4" fill="#f4db92"/>
<circle cx="476.8" cy="67.9" r="2.1" fill="#5a1802"/>
<circle cx="476.8" cy="67.9" r="1.2" fill="#8e420c"/>
<circle cx="442.1" cy="75.4" r="2.4" fill="#e5bc5d"/>
<circle cx="442.1" cy="75.4" r="1.4" fill="#f9e9b2"/>
<circle cx="430.4" cy="97.8" r="2.7" fill="#ddae4e"/>
<circle cx="430.4" cy="97.8" r="1.6" fill="#f5dd95"/>
<circle cx="423.5" cy="78.7" r="2.6" fill="#e3b858"/>
<circle cx="423.5" cy="78.7" r="1.5" fill="#f8e6aa"/>
<circle cx="426.5" cy="127.6" r="2.3" fill="#d49f3f"/>
<circle cx="426.5" cy="127.6" r="1.4" fill="#eecf7e"/>
<circle cx="452.1" cy="119.8" r="2.6" fill="#d09a3a"/>
<circle cx="452.1" cy="119.8" r="1.6" fill="#ecca75"/>
<circle cx="480.3" cy="45.9" r="2.2" fill="#2e0500"/>
<circle cx="480.3" cy="45.9" r="1.3" fill="#5c1902"/>
<circle cx="435.9" cy="127.8" r="2.4" fill="#e5bd5f"/>
<circle cx="435.9" cy="127.8" r="1.4" fill="#f9e9b4"/>
<circle cx="385.1" cy="67.8" r="2.1" fill="#95490e"/>
<circle cx="385.1" cy="67.8" r="1.2" fill="#c08127"/>
<circle cx="379.4" cy="43.6" r="2.2" fill="#4b1001"/>
<circle cx="379.4" cy="43.6" r="1.3" fill="#7f3308"/>
<circle cx="379.5" cy="95.0" r="2.4" fill="#873b0a"/>
<circle cx="379.5" cy="95.0" r="1.4" fill="#b67220"/>
<circle cx="461.9" cy="122.3" r="2.1" fill="#b87521"/>
<circle cx="461.9" cy="122.3" r="1.3" fill="#daaa4a"/>
<circle cx="388.9" cy="100.6" r="2.5" fill="#9d5111"/>
<circle cx="388.9" cy="100.6" r="1.5" fill="#c78b2b"/>
<circle cx="447.6" cy="31.9" r="2.7" fill="#eccc78"/>
<circle cx="447.6" cy="31.9" r="1.6" fill="#fdf5d5"/>
<circle cx="473.4" cy="130.7" r="1.7" fill="#621d02"/>
<circle cx="473.4" cy="130.7" r="1.0" fill="#974b0f"/>
<circle cx="396.5" cy="128.9" r="2.5" fill="#9f5311"/>
<circle cx="396.5" cy="128.9" r="1.5" fill="#c88d2d"/>
<circle cx="417.2" cy="73.2" r="2.4" fill="#deb050"/>
<circle cx="417.2" cy="73.2" r="1.4" fill="#f6e099"/>
<circle cx="485.8" cy="114.5" r="1.8" fill="#3f0a00"/>
<circle cx="485.8" cy="114.5" r="1.1" fill="#732704"/>
<circle cx="389.7" cy="66.5" r="1.9" fill="#843809"/>
<circle cx="389.7" cy="66.5" r="1.1" fill="#b46f1e"/>
<circle cx="430.8" cy="55.4" r="2.6" fill="#f5dd95"/>
<circle cx="430.8" cy="55.4" r="1.5" fill="#fffce8"/>
<circle cx="393.7" cy="53.0" r="2.0" fill="#8c400b"/>
<circle cx="393.7" cy="53.0" r="1.2" fill="#ba7822"/>
<circle cx="454.8" cy="17.1" r="2.7" fill="#b77320"/>
<circle cx="454.8" cy="17.1" r="1.6" fill="#d9a848"/>
<circle cx="373.1" cy="54.5" r="2.1" fill="#661e02"/>
<circle cx="373.1" cy="54.5" r="1.3" fill="#9a4e10"/>
<circle cx="378.5" cy="132.8" r="1.9" fill="#7c3006"/>
<circle cx="378.5" cy="132.8" r="1.2" fill="#ad661a"/>
<circle cx="383.2" cy="46.6" r="2.2" fill="#7d3107"/>
<circle cx="383.2" cy="46.6" r="1.3" fill="#af681b"/>
<circle cx="402.4" cy="30.3" r="2.3" fill="#90440d"/>
<circle cx="402.4" cy="30.3" r="1.4" fill="#bd7d25"/>
<circle cx="437.2" cy="98.7" r="2.7" fill="#e0b454"/>
<circle cx="437.2" cy="98.7" r="1.6" fill="#f7e2a0"/>
<circle cx="379.4" cy="127.2" r="1.9" fill="#782c06"/>
<circle cx="379.4" cy="127.2" r="1.2" fill="#ab6318"/>
<circle cx="380.7" cy="117.4" r="2.1" fill="#752904"/>
<circle cx="380.7" cy="117.4" r="1.3" fill="#a85f16"/>
<circle cx="423.6" cy="55.4" r="2.7" fill="#e6bf62"/>
<circle cx="423.6" cy="55.4" r="1.6" fill="#faebb9"/>
<circle cx="432.1" cy="43.4" r="2.5" fill="#fdf5d6"/>
<circle cx="432.1" cy="43.4" r="1.5" fill="#fffce8"/>
<circle cx="407.2" cy="51.3" r="2.2" fill="#c78b2b"/>
<circle cx="407.2" cy="51.3" r="1.3" fill="#e5bc5d"/>
<circle cx="429.0" cy="36.1" r="2.7" fill="#f9e8b0"/>
<circle cx="429.0" cy="36.1" r="1.6" fill="#fffce8"/>
<circle cx="411.3" cy="17.0" r="2.5" fill="#c18127"/>
<circle cx="411.3" cy="17.0" r="1.5" fill="#e0b454"/>
<circle cx="400.1" cy="16.6" r="2.0" fill="#9b4f10"/>
<circle cx="400.1" cy="16.6" r="1.2" fill="#c5882a"/>
<circle cx="393.0" cy="71.7" r="2.5" fill="#8c400b"/>
<circle cx="393.0" cy="71.7" r="1.5" fill="#ba7722"/>
<circle cx="479.4" cy="27.5" r="1.8" fill="#370800"/>
<circle cx="479.4" cy="27.5" r="1.1" fill="#682002"/>
<circle cx="466.0" cy="66.6" r="2.0" fill="#732704"/>
<circle cx="466.0" cy="66.6" r="1.2" fill="#a75d15"/>
<circle cx="428.4" cy="114.8" r="2.4" fill="#ce9636"/>
<circle cx="428.4" cy="114.8" r="1.5" fill="#eac770"/>
<circle cx="450.8" cy="132.5" r="2.4" fill="#cb9030"/>
<circle cx="450.8" cy="132.5" r="1.4" fill="#e7c166"/>
<circle cx="410.8" cy="114.5" r="2.2" fill="#c6892b"/>
<circle cx="410.8" cy="114.5" r="1.3" fill="#e4ba5b"/>
<circle cx="453.0" cy="91.0" r="2.4" fill="#d09a3a"/>
<circle cx="453.0" cy="91.0" r="1.5" fill="#ecca75"/>
<circle cx="417.9" cy="56.4" r="2.4" fill="#ebc973"/>
<circle cx="417.9" cy="56.4" r="1.4" fill="#fcf3cf"/>
<circle cx="377.3" cy="30.4" r="1.7" fill="#4b1001"/>
<circle cx="377.3" cy="30.4" r="1.0" fill="#7f3307"/>
<circle cx="400.6" cy="34.4" r="2.4" fill="#a55a14"/>
<circle cx="400.6" cy="34.4" r="1.4" fill="#cc9333"/>
<circle cx="403.7" cy="43.8" r="2.1" fill="#974b0f"/>
<circle cx="403.7" cy="43.8" r="1.3" fill="#c28428"/>
<circle cx="405.0" cy="69.8" r="2.3" fill="#cd9434"/>
<circle cx="405.0" cy="69.8" r="1.4" fill="#e9c56c"/>
<circle cx="401.5" cy="130.0" r="2.2" fill="#b5721f"/>
<circle cx="401.5" cy="130.0" r="1.3" fill="#d8a747"/>
<circle cx="483.8" cy="80.3" r="1.8" fill="#4d1101"/>
<circle cx="483.8" cy="80.3" r="1.1" fill="#813508"/>
<circle cx="406.9" cy="57.5" r="2.5" fill="#be7e25"/>
<circle cx="406.9" cy="57.5" r="1.5" fill="#dfb151"/>
<circle cx="371.1" cy="60.5" r="2.3" fill="#5b1902"/>
<circle cx="371.1" cy="60.5" r="1.4" fill="#90440c"/>
<circle cx="381.4" cy="62.7" r="2.3" fill="#8a3e0b"/>
<circle cx="381.4" cy="62.7" r="1.4" fill="#b97621"/>
<circle cx="438.9" cy="78.2" r="2.7" fill="#eac771"/>
<circle cx="438.9" cy="78.2" r="1.6" fill="#fcf2cc"/>
<circle cx="458.1" cy="93.6" r="2.3" fill="#c98e2e"/>
<circle cx="458.1" cy="93.6" r="1.4" fill="#e6be62"/>
<circle cx="376.1" cy="114.9" r="1.9" fill="#823608"/>
<circle cx="376.1" cy="114.9" r="1.2" fill="#b26d1d"/>
<circle cx="474.5" cy="90.0" r="1.9" fill="#601b02"/>
<circle cx="474.5" cy="90.0" r="1.2" fill="#94480e"/>
<circle cx="456.1" cy="112.1" r="2.1" fill="#c5882a"/>
<circle cx="456.1" cy="112.1" r="1.2" fill="#e4ba5a"/>
<circle cx="387.2" cy="77.5" r="2.2" fill="#7b2f06"/>
<circle cx="387.2" cy="77.5" r="1.3" fill="#ad6619"/>
<circle cx="464.3" cy="113.8" r="1.9" fill="#a45813"/>
<circle cx="464.3" cy="113.8" r="1.2" fill="#cb9131"/>
<circle cx="450.2" cy="97.9" r="2.3" fill="#d19b3b"/>
<circle cx="450.2" cy="97.9" r="1.4" fill="#eccc77"/>
<circle cx="435.8" cy="90.0" r="2.6" fill="#d5a141"/>
<circle cx="435.8" cy="90.0" r="1.6" fill="#efd181"/>
<circle cx="443.6" cy="96.3" r="2.4" fill="#d09838"/>
<circle cx="443.6" cy="96.3" r="1.5" fill="#ebc973"/>
<circle cx="427.8" cy="15.2" r="3.0" fill="#fcf4d1"/>
<circle cx="427.8" cy="15.2" r="1.8" fill="#fffce8"/>
<circle cx="456.5" cy="45.0" r="2.1" fill="#c78b2b"/>
<circle cx="456.5" cy="45.0" r="1.2" fill="#e5bc5d"/>
<circle cx="455.6" cy="39.4" r="2.3" fill="#bd7c24"/>
<circle cx="455.6" cy="39.4" r="1.4" fill="#deb050"/>
<circle cx="456.8" cy="131.7" r="2.4" fill="#c28428"/>
<circle cx="456.8" cy="131.7" r="1.4" fill="#e2b656"/>
<circle cx="428.3" cy="60.6" r="2.7" fill="#f7e4a4"/>
<circle cx="428.3" cy="60.6" r="1.6" fill="#fffce8"/>
<circle cx="460.0" cy="88.7" r="2.4" fill="#974b0f"/>
<circle cx="460.0" cy="88.7" r="1.4" fill="#c28428"/>
<circle cx="388.1" cy="45.2" r="2.3" fill="#702403"/>
<circle cx="388.1" cy="45.2" r="1.4" fill="#a55a14"/>
<circle cx="449.4" cy="49.6" r="2.6" fill="#eccb77"/>
<circle cx="449.4" cy="49.6" r="1.5" fill="#fdf5d4"/>
<circle cx="430.9" cy="70.5" r="2.4" fill="#dfb151"/>
<circle cx="430.9" cy="70.5" r="1.5" fill="#f6e09b"/>
<circle cx="425.1" cy="29.0" r="3.0" fill="#edce7c"/>
<circle cx="425.1" cy="29.0" r="1.8" fill="#fdf7da"/>
<circle cx="474.7" cy="38.7" r="1.8" fill="#4f1201"/>
<circle cx="474.7" cy="38.7" r="1.1" fill="#833709"/>
<circle cx="484.5" cy="127.0" r="1.8" fill="#551501"/>
<circle cx="484.5" cy="127.0" r="1.1" fill="#893d0a"/>
<circle cx="466.1" cy="75.7" r="2.1" fill="#7d3107"/>
<circle cx="466.1" cy="75.7" r="1.3" fill="#ae671a"/>
<circle cx="397.8" cy="122.3" r="2.0" fill="#a35713"/>
<circle cx="397.8" cy="122.3" r="1.2" fill="#ca9030"/>
<circle cx="387.3" cy="56.0" r="2.0" fill="#92460d"/>
<circle cx="387.3" cy="56.0" r="1.2" fill="#bf7f26"/>
<circle cx="371.2" cy="104.7" r="1.8" fill="#7a2e06"/>
<circle cx="371.2" cy="104.7" r="1.1" fill="#ac6519"/>
<circle cx="468.3" cy="29.2" r="2.1" fill="#5f1b02"/>
<circle cx="468.3" cy="29.2" r="1.3" fill="#94480e"/>
<circle cx="478.5" cy="100.2" r="1.8" fill="#611c02"/>
<circle cx="478.5" cy="100.2" r="1.1" fill="#964a0e"/>
<circle cx="475.6" cy="49.5" r="2.0" fill="#531401"/>
<circle cx="475.6" cy="49.5" r="1.2" fill="#873b0a"/>
<circle cx="486.9" cy="85.4" r="2.0" fill="#2e0500"/>
<circle cx="486.9" cy="85.4" r="1.2" fill="#5c1902"/>
<circle cx="402.9" cy="20.6" r="2.2" fill="#ac6419"/>
<circle cx="402.9" cy="20.6" r="1.3" fill="#d19b3b"/>
<circle cx="404.1" cy="126.9" r="2.5" fill="#d09a3a"/>
<circle cx="404.1" cy="126.9" r="1.5" fill="#ecca75"/>
<circle cx="405.5" cy="103.3" r="2.2" fill="#bd7d25"/>
<circle cx="405.5" cy="103.3" r="1.3" fill="#deb050"/>
<circle cx="390.4" cy="34.2" r="1.8" fill="#782c05"/>
<circle cx="390.4" cy="34.2" r="1.1" fill="#ab6318"/>
<circle cx="428.7" cy="41.2" r="3.0" fill="#fdf7d9"/>
<circle cx="428.7" cy="41.2" r="1.8" fill="#fffce8"/>
<circle cx="393.3" cy="25.7" r="2.0" fill="#8e420c"/>
<circle cx="393.3" cy="25.7" r="1.2" fill="#bb7a23"/>
<circle cx="410.7" cy="25.7" r="2.3" fill="#b6721f"/>
<circle cx="410.7" cy="25.7" r="1.4" fill="#d8a747"/>
<circle cx="398.7" cy="45.8" r="2.3" fill="#93470e"/>
<circle cx="398.7" cy="45.8" r="1.4" fill="#bf8026"/>
<circle cx="458.0" cy="64.3" r="2.0" fill="#b97621"/>
<circle cx="458.0" cy="64.3" r="1.2" fill="#daaa4a"/>
<circle cx="419.0" cy="77.6" r="2.7" fill="#e0b353"/>
<circle cx="419.0" cy="77.6" r="1.6" fill="#f7e29f"/>
<circle cx="471.1" cy="40.7" r="2.1" fill="#511301"/>
<circle cx="471.1" cy="40.7" r="1.3" fill="#853909"/>
<circle cx="417.4" cy="68.2" r="2.6" fill="#deb050"/>
<circle cx="417.4" cy="68.2" r="1.5" fill="#f5df98"/>
<circle cx="481.7" cy="116.5" r="2.1" fill="#521401"/>
<circle cx="481.7" cy="116.5" r="1.3" fill="#863a0a"/>
<circle cx="472.3" cy="17.4" r="2.0" fill="#651e02"/>
<circle cx="472.3" cy="17.4" r="1.2" fill="#994d0f"/>
<circle cx="439.1" cy="14.8" r="3.0" fill="#f3da8f"/>
<circle cx="439.1" cy="14.8" r="1.8" fill="#fffce8"/>
<circle cx="446.1" cy="106.4" r="2.6" fill="#dfb151"/>
<circle cx="446.1" cy="106.4" r="1.6" fill="#f6e09b"/>
<circle cx="431.8" cy="84.6" r="2.4" fill="#e4bb5c"/>
<circle cx="431.8" cy="84.6" r="1.5" fill="#f9e8b0"/>
<circle cx="416.0" cy="41.6" r="2.5" fill="#dcac4c"/>
<circle cx="416.0" cy="41.6" r="1.5" fill="#f4dc92"/>
<circle cx="406.7" cy="17.4" r="2.5" fill="#a65c15"/>
<circle cx="406.7" cy="17.4" r="1.5" fill="#cd9434"/>
<circle cx="419.7" cy="45.6" r="2.7" fill="#e3b858"/>
<circle cx="419.7" cy="45.6" r="1.6" fill="#f8e5a9"/>
<circle cx="448.4" cy="125.6" r="2.4" fill="#c88c2c"/>
<circle cx="448.4" cy="125.6" r="1.4" fill="#e5bd5f"/>
<circle cx="410.2" cy="65.2" r="2.6" fill="#cb9030"/>
<circle cx="410.2" cy="65.2" r="1.5" fill="#e7c166"/>
<circle cx="450.2" cy="38.5" r="2.5" fill="#e5bc5d"/>
<circle cx="450.2" cy="38.5" r="1.5" fill="#f9e9b2"/>
<circle cx="396.7" cy="105.9" r="2.1" fill="#a25712"/>
<circle cx="396.7" cy="105.9" r="1.3" fill="#ca9030"/>
<circle cx="396.9" cy="64.8" r="2.2" fill="#b5711f"/>
<circle cx="396.9" cy="64.8" r="1.3" fill="#d8a646"/>
<circle cx="388.0" cy="61.9" r="1.8" fill="#853909"/>
<circle cx="388.0" cy="61.9" r="1.1" fill="#b4701e"/>
<circle cx="387.5" cy="21.0" r="1.9" fill="#5f1b02"/>
<circle cx="387.5" cy="21.0" r="1.1" fill="#93470e"/>
<circle cx="475.2" cy="120.7" r="2.2" fill="#621c02"/>
<circle cx="475.2" cy="120.7" r="1.3" fill="#974b0f"/>
<circle cx="479.1" cy="54.2" r="1.8" fill="#380800"/>
<circle cx="479.1" cy="54.2" r="1.1" fill="#692003"/>
<circle cx="392.5" cy="126.9" r="2.4" fill="#b16b1c"/>
<circle cx="392.5" cy="126.9" r="1.5" fill="#d5a141"/>
<circle cx="414.4" cy="54.5" r="2.4" fill="#e5bd5f"/>
<circle cx="414.4" cy="54.5" r="1.4" fill="#f9e9b4"/>
<circle cx="390.6" cy="15.1" r="2.2" fill="#863a0a"/>
<circle cx="390.6" cy="15.1" r="1.3" fill="#b5711f"/>
<circle cx="482.9" cy="39.6" r="2.0" fill="#340700"/>
<circle cx="482.9" cy="39.6" r="1.2" fill="#641d02"/>
<circle cx="414.2" cy="125.0" r="2.2" fill="#d7a545"/>
<circle cx="414.2" cy="125.0" r="1.3" fill="#f1d587"/>
<circle cx="393.4" cy="58.4" r="2.1" fill="#9d5111"/>
<circle cx="393.4" cy="58.4" r="1.3" fill="#c78a2b"/>
<circle cx="459.9" cy="19.7" r="2.1" fill="#a95f16"/>
<circle cx="459.9" cy="19.7" r="1.2" fill="#cf9737"/>
<circle cx="375.0" cy="22.3" r="1.9" fill="#460d00"/>
<circle cx="375.0" cy="22.3" r="1.2" fill="#7a2e06"/>
<circle cx="457.7" cy="122.4" r="2.4" fill="#a96117"/>
<circle cx="457.7" cy="122.4" r="1.5" fill="#cf9838"/>
<circle cx="478.7" cy="36.7" r="2.1" fill="#390800"/>
<circle cx="478.7" cy="36.7" r="1.2" fill="#6a2103"/>
<circle cx="466.4" cy="107.4" r="2.4" fill="#a05411"/>
<circle cx="466.4" cy="107.4" r="1.5" fill="#c98d2d"/>
<circle cx="441.4" cy="54.1" r="2.6" fill="#edcd79"/>
<circle cx="441.4" cy="54.1" r="1.5" fill="#fdf6d7"/>
<circle cx="461.7" cy="24.3" r="2.4" fill="#9f5311"/>
<circle cx="461.7" cy="24.3" r="1.5" fill="#c88c2c"/>
<circle cx="408.8" cy="132.2" r="2.2" fill="#cc9232"/>
<circle cx="408.8" cy="132.2" r="1.3" fill="#e8c369"/>
<circle cx="382.2" cy="74.5" r="2.3" fill="#883c0a"/>
<circle cx="382.2" cy="74.5" r="1.4" fill="#b77420"/>
<circle cx="453.3" cy="68.3" r="2.4" fill="#c18227"/>
<circle cx="453.3" cy="68.3" r="1.4" fill="#e1b454"/>
<circle cx="457.8" cy="116.3" r="2.6" fill="#cc9232"/>
<circle cx="457.8" cy="116.3" r="1.6" fill="#e8c368"/>
<circle cx="388.8" cy="120.7" r="2.3" fill="#93470d"/>
<circle cx="388.8" cy="120.7" r="1.4" fill="#bf7f26"/>
<circle cx="416.9" cy="133.7" r="2.7" fill="#c6882a"/>
<circle cx="416.9" cy="133.7" r="1.6" fill="#e4ba5a"/>
<circle cx="384.8" cy="37.5" r="1.8" fill="#511301"/>
<circle cx="384.8" cy="37.5" r="1.1" fill="#853909"/>
<circle cx="471.5" cy="68.6" r="2.2" fill="#571701"/>
<circle cx="471.5" cy="68.6" r="1.3" fill="#8b3f0b"/>
<circle cx="401.2" cy="108.0" r="2.5" fill="#b26d1d"/>
<circle cx="401.2" cy="108.0" r="1.5" fill="#d6a343"/>
<circle cx="440.2" cy="89.1" r="2.3" fill="#e5bc5d"/>
<circle cx="440.2" cy="89.1" r="1.4" fill="#f9e8b1"/>
<circle cx="463.3" cy="80.5" r="2.4" fill="#8f430c"/>
<circle cx="463.3" cy="80.5" r="1.4" fill="#bc7b24"/>
<circle cx="413.2" cy="38.4" r="2.2" fill="#d5a141"/>
<circle cx="413.2" cy="38.4" r="1.3" fill="#efd180"/>
<circle cx="371.7" cy="122.8" r="1.8" fill="#581702"/>
<circle cx="371.7" cy="122.8" r="1.1" fill="#8d410c"/>
<circle cx="427.0" cy="21.2" r="3.0" fill="#f3da8f"/>
<circle cx="427.0" cy="21.2" r="1.8" fill="#fffce8"/>
<circle cx="462.2" cy="41.4" r="2.2" fill="#974b0f"/>
<circle cx="462.2" cy="41.4" r="1.3" fill="#c28428"/>
<circle cx="419.7" cy="84.6" r="2.5" fill="#e5bc5d"/>
<circle cx="419.7" cy="84.6" r="1.5" fill="#f9e8b2"/>
<circle cx="420.4" cy="93.7" r="2.4" fill="#e8c267"/>
<circle cx="420.4" cy="93.7" r="1.4" fill="#faedbf"/>
<circle cx="422.8" cy="67.3" r="2.8" fill="#eac66e"/>
<circle cx="422.8" cy="67.3" r="1.7" fill="#fbf0c8"/>
<circle cx="373.7" cy="88.9" r="2.3" fill="#5a1802"/>
<circle cx="373.7" cy="88.9" r="1.4" fill="#8f430c"/>
<circle cx="459.6" cy="108.2" r="2.6" fill="#c08026"/>
<circle cx="459.6" cy="108.2" r="1.5" fill="#e0b353"/>
<circle cx="393.5" cy="132.4" r="2.4" fill="#b16b1c"/>
<circle cx="393.5" cy="132.4" r="1.4" fill="#d5a141"/>
<circle cx="462.5" cy="126.3" r="2.5" fill="#a45914"/>
<circle cx="462.5" cy="126.3" r="1.5" fill="#cc9232"/>
<circle cx="378.6" cy="56.8" r="2.0" fill="#551501"/>
<circle cx="378.6" cy="56.8" r="1.2" fill="#893d0b"/>
<circle cx="383.1" cy="133.8" r="2.4" fill="#6e2303"/>
<circle cx="383.1" cy="133.8" r="1.4" fill="#a35713"/>
<circle cx="412.8" cy="106.4" r="2.5" fill="#cf9737"/>
<circle cx="412.8" cy="106.4" r="1.5" fill="#eac770"/>
<circle cx="439.0" cy="94.3" r="2.4" fill="#cf9838"/>
<circle cx="439.0" cy="94.3" r="1.4" fill="#ebc872"/>
<circle cx="442.5" cy="66.6" r="2.6" fill="#dfb252"/>
<circle cx="442.5" cy="66.6" r="1.5" fill="#f6e19c"/>
<circle cx="446.8" cy="17.5" r="2.3" fill="#e3b858"/>
<circle cx="446.8" cy="17.5" r="1.4" fill="#f8e5a8"/>
<circle cx="439.3" cy="39.3" r="2.9" fill="#faedbd"/>
<circle cx="439.3" cy="39.3" r="1.8" fill="#fffce8"/>
<circle cx="443.4" cy="71.7" r="2.6" fill="#e9c56c"/>
<circle cx="443.4" cy="71.7" r="1.6" fill="#fbf0c6"/>
<circle cx="371.7" cy="116.0" r="1.8" fill="#651e02"/>
<circle cx="371.7" cy="116.0" r="1.1" fill="#9a4e0f"/>
<circle cx="397.2" cy="27.4" r="2.0" fill="#8f430c"/>
<circle cx="397.2" cy="27.4" r="1.2" fill="#bc7b24"/>
<circle cx="401.8" cy="91.7" r="2.1" fill="#a96017"/>
<circle cx="401.8" cy="91.7" r="1.3" fill="#cf9737"/>
<circle cx="457.6" cy="54.0" r="2.5" fill="#bc7b24"/>
<circle cx="457.6" cy="54.0" r="1.5" fill="#ddaf4f"/>
<circle cx="473.1" cy="54.2" r="1.9" fill="#6c2203"/>
<circle cx="473.1" cy="54.2" r="1.2" fill="#a25612"/>
<circle cx="421.7" cy="101.6" r="2.8" fill="#deb050"/>
<circle cx="421.7" cy="101.6" r="1.7" fill="#f5df98"/>
<circle cx="437.2" cy="51.7" r="3.0" fill="#f3db91"/>
<circle cx="437.2" cy="51.7" r="1.8" fill="#fffce8"/>
<circle cx="395.6" cy="89.4" r="2.3" fill="#a45813"/>
<circle cx="395.6" cy="89.4" r="1.4" fill="#cb9131"/>
<circle cx="451.9" cy="103.1" r="2.5" fill="#dcae4e"/>
<circle cx="451.9" cy="103.1" r="1.5" fill="#f5dd95"/>
<circle cx="378.6" cy="85.5" r="2.0" fill="#7f3308"/>
<circle cx="378.6" cy="85.5" r="1.2" fill="#b06a1c"/>
<circle cx="477.1" cy="127.9" r="1.7" fill="#400a00"/>
<circle cx="477.1" cy="127.9" r="1.0" fill="#732704"/>
<circle cx="444.3" cy="49.2" r="2.9" fill="#f6e09a"/>
<circle cx="444.3" cy="49.2" r="1.7" fill="#fffce8"/>
<circle cx="482.8" cy="75.1" r="2.0" fill="#320600"/>
<circle cx="482.8" cy="75.1" r="1.2" fill="#611c02"/>
<circle cx="469.8" cy="88.9" r="2.1" fill="#803408"/>
<circle cx="469.8" cy="88.9" r="1.3" fill="#b16b1c"/>
<circle cx="411.2" cy="99.2" r="2.7" fill="#d39f3f"/>
<circle cx="411.2" cy="99.2" r="1.6" fill="#eecf7d"/>
<circle cx="371.2" cy="39.0" r="2.1" fill="#631d02"/>
<circle cx="371.2" cy="39.0" r="1.3" fill="#984c0f"/>
<circle cx="428.0" cy="110.3" r="2.3" fill="#d6a444"/>
<circle cx="428.0" cy="110.3" r="1.4" fill="#f0d385"/>
<circle cx="452.1" cy="74.5" r="2.5" fill="#c08127"/>
<circle cx="452.1" cy="74.5" r="1.5" fill="#e0b353"/>
<circle cx="451.9" cy="109.1" r="2.3" fill="#d9a747"/>
<circle cx="451.9" cy="109.1" r="1.4" fill="#f2d78b"/>
<circle cx="452.6" cy="115.9" r="2.6" fill="#cb9131"/>
<circle cx="452.6" cy="115.9" r="1.5" fill="#e8c166"/>
<circle cx="409.1" cy="37.5" r="2.2" fill="#cc9232"/>
<circle cx="409.1" cy="37.5" r="1.3" fill="#e8c268"/>
<circle cx="416.0" cy="18.9" r="2.7" fill="#dfb151"/>
<circle cx="416.0" cy="18.9" r="1.6" fill="#f6e09b"/>
<circle cx="417.3" cy="109.6" r="2.2" fill="#ddaf4f"/>
<circle cx="417.3" cy="109.6" r="1.3" fill="#f5de96"/>
<circle cx="387.5" cy="87.1" r="2.0" fill="#95490e"/>
<circle cx="387.5" cy="87.1" r="1.2" fill="#c18227"/>
<circle cx="407.3" cy="90.1" r="2.7" fill="#d4a040"/>
<circle cx="407.3" cy="90.1" r="1.6" fill="#eed07e"/>
<circle cx="444.0" cy="44.8" r="3.0" fill="#ebc973"/>
<circle cx="444.0" cy="44.8" r="1.8" fill="#fcf3ce"/>
<circle cx="392.2" cy="93.2" r="2.5" fill="#b6721f"/>
<circle cx="392.2" cy="93.2" r="1.5" fill="#d8a747"/>
<circle cx="461.3" cy="61.4" r="2.0" fill="#9e5211"/>
<circle cx="461.3" cy="61.4" r="1.2" fill="#c88b2c"/>
<circle cx="427.8" cy="131.6" r="2.5" fill="#d09a3a"/>
<circle cx="427.8" cy="131.6" r="1.5" fill="#ecca75"/>
<circle cx="433.8" cy="100.7" r="2.4" fill="#d5a141"/>
<circle cx="433.8" cy="100.7" r="1.4" fill="#efd180"/>
<circle cx="395.4" cy="96.8" r="2.1" fill="#a35813"/>
<circle cx="395.4" cy="96.8" r="1.2" fill="#cb9131"/>
<circle cx="396.4" cy="110.8" r="2.0" fill="#b0691b"/>
<circle cx="396.4" cy="110.8" r="1.2" fill="#d49f3f"/>
<circle cx="386.0" cy="107.8" r="2.3" fill="#aa6117"/>
<circle cx="386.0" cy="107.8" r="1.4" fill="#cf9838"/>
<circle cx="425.4" cy="82.1" r="2.2" fill="#e9c56d"/>
<circle cx="425.4" cy="82.1" r="1.3" fill="#fbf0c7"/>
<circle cx="412.0" cy="91.3" r="2.5" fill="#daaa4a"/>
<circle cx="412.0" cy="91.3" r="1.5" fill="#f3da8f"/>
<circle cx="467.7" cy="57.3" r="2.1" fill="#893d0a"/>
<circle cx="467.7" cy="57.3" r="1.3" fill="#b77421"/>
<circle cx="441.6" cy="108.4" r="2.6" fill="#e2b656"/>
<circle cx="441.6" cy="108.4" r="1.5" fill="#f7e4a5"/>
<circle cx="435.4" cy="46.5" r="2.5" fill="#fcf3d0"/>
<circle cx="435.4" cy="46.5" r="1.5" fill="#fffce8"/>
<circle cx="448.2" cy="115.5" r="2.7" fill="#d29d3d"/>
<circle cx="448.2" cy="115.5" r="1.6" fill="#edcd79"/>
<circle cx="444.9" cy="91.0" r="2.3" fill="#d9a848"/>
<circle cx="444.9" cy="91.0" r="1.4" fill="#f2d88d"/>
<circle cx="429.4" cy="47.3" r="2.9" fill="#f6e09a"/>
<circle cx="429.4" cy="47.3" r="1.7" fill="#fffce8"/>
<circle cx="477.9" cy="87.7" r="2.0" fill="#5d1a02"/>
<circle cx="477.9" cy="87.7" r="1.2" fill="#92460d"/>
<circle cx="448.4" cy="69.7" r="2.2" fill="#e3b858"/>
<circle cx="448.4" cy="69.7" r="1.3" fill="#f8e6aa"/>
<circle cx="392.0" cy="19.2" r="2.1" fill="#8d410c"/>
<circle cx="392.0" cy="19.2" r="1.3" fill="#ba7823"/>
<circle cx="418.8" cy="27.0" r="2.4" fill="#e7bf63"/>
<circle cx="418.8" cy="27.0" r="1.5" fill="#faebb9"/>
<circle cx="445.8" cy="40.2" r="2.4" fill="#f0d283"/>
<circle cx="445.8" cy="40.2" r="1.4" fill="#fffbe4"/>
<circle cx="371.6" cy="96.7" r="1.8" fill="#702403"/>
<circle cx="371.6" cy="96.7" r="1.1" fill="#a45914"/>
<circle cx="455.6" cy="24.9" r="2.2" fill="#cf9737"/>
<circle cx="455.6" cy="24.9" r="1.3" fill="#eac770"/>
<circle cx="465.8" cy="24.3" r="2.2" fill="#601b02"/>
<circle cx="465.8" cy="24.3" r="1.3" fill="#95490e"/>
<circle cx="425.0" cy="39.5" r="2.8" fill="#f8e7ae"/>
<circle cx="425.0" cy="39.5" r="1.7" fill="#fffce8"/>
<circle cx="462.8" cy="69.9" r="2.3" fill="#8b3f0b"/>
<circle cx="462.8" cy="69.9" r="1.4" fill="#b97622"/>
<circle cx="381.2" cy="111.4" r="2.2" fill="#93470d"/>
<circle cx="381.2" cy="111.4" r="1.3" fill="#bf7f26"/>
<circle cx="473.7" cy="77.3" r="1.9" fill="#601b02"/>
<circle cx="473.7" cy="77.3" r="1.1" fill="#95490e"/>
<circle cx="392.9" cy="37.8" r="2.1" fill="#752904"/>
<circle cx="392.9" cy="37.8" r="1.3" fill="#a85f16"/>
<circle cx="486.7" cy="59.6" r="1.7" fill="#260300"/>
<circle cx="486.7" cy="59.6" r="1.0" fill="#521401"/>
<circle cx="462.3" cy="33.5" r="2.0" fill="#782c05"/>
<circle cx="462.3" cy="33.5" r="1.2" fill="#ab6218"/>
<circle cx="476.6" cy="22.5" r="2.2" fill="#450d00"/>
<circle cx="476.6" cy="22.5" r="1.3" fill="#782c05"/>
<circle cx="384.9" cy="129.7" r="1.9" fill="#8d410c"/>
<circle cx="384.9" cy="129.7" r="1.1" fill="#bb7923"/>
<circle cx="448.7" cy="61.9" r="2.2" fill="#dcad4d"/>
<circle cx="448.7" cy="61.9" r="1.3" fill="#f4dc94"/>
<circle cx="396.7" cy="19.4" r="2.2" fill="#6d2303"/>
<circle cx="396.7" cy="19.4" r="1.3" fill="#a25712"/>
<circle cx="468.1" cy="20.4" r="2.1" fill="#511301"/>
<circle cx="468.1" cy="20.4" r="1.3" fill="#853909"/>
<circle cx="458.6" cy="127.3" r="2.2" fill="#c78a2b"/>
<circle cx="458.6" cy="127.3" r="1.3" fill="#e5bc5d"/>
<circle cx="383.2" cy="53.6" r="1.8" fill="#5b1902"/>
<circle cx="383.2" cy="53.6" r="1.1" fill="#8f430c"/>
<circle cx="407.9" cy="123.0" r="2.2" fill="#cf9838"/>
<circle cx="407.9" cy="123.0" r="1.3" fill="#ebc872"/>
<circle cx="377.6" cy="122.0" r="1.9" fill="#6c2203"/>
<circle cx="377.6" cy="122.0" r="1.2" fill="#a15512"/>
<circle cx="400.9" cy="39.0" r="2.1" fill="#93470d"/>
<circle cx="400.9" cy="39.0" r="1.3" fill="#bf7f26"/>
<circle cx="437.3" cy="31.3" r="2.9" fill="#fefae2"/>
<circle cx="437.3" cy="31.3" r="1.8" fill="#fffce8"/>
<circle cx="465.1" cy="84.6" r="2.3" fill="#883c0a"/>
<circle cx="465.1" cy="84.6" r="1.4" fill="#b77420"/>
<circle cx="392.6" cy="114.4" r="2.4" fill="#bd7d25"/>
<circle cx="392.6" cy="114.4" r="1.4" fill="#deb050"/>
<circle cx="413.6" cy="34.4" r="2.2" fill="#d6a242"/>
<circle cx="413.6" cy="34.4" r="1.3" fill="#efd283"/>
<circle cx="385.0" cy="100.4" r="2.1" fill="#ab6318"/>
<circle cx="385.0" cy="100.4" r="1.2" fill="#d19a3a"/>
<circle cx="400.1" cy="112.7" r="2.4" fill="#cb9030"/>
<circle cx="400.1" cy="112.7" r="1.5" fill="#e7c166"/>
<circle cx="418.1" cy="31.2" r="2.7" fill="#dcac4c"/>
<circle cx="418.1" cy="31.2" r="1.6" fill="#f4dc93"/>
<circle cx="439.7" cy="118.0" r="2.3" fill="#e1b656"/>
<circle cx="439.7" cy="118.0" r="1.4" fill="#f7e4a5"/>
<circle cx="421.5" cy="132.4" r="2.2" fill="#e3b858"/>
<circle cx="421.5" cy="132.4" r="1.3" fill="#f8e5a9"/>
<circle cx="435.6" cy="73.7" r="2.8" fill="#eecf7d"/>
<circle cx="435.6" cy="73.7" r="1.7" fill="#fef7db"/>
<circle cx="404.0" cy="133.1" r="2.3" fill="#cc9232"/>
<circle cx="404.0" cy="133.1" r="1.4" fill="#e8c368"/>
<circle cx="405.3" cy="107.3" r="2.2" fill="#b77421"/>
<circle cx="405.3" cy="107.3" r="1.3" fill="#daa949"/>
<circle cx="456.7" cy="103.8" r="2.6" fill="#c98d2d"/>
<circle cx="456.7" cy="103.8" r="1.6" fill="#e6be61"/>
<circle cx="438.5" cy="25.3" r="2.9" fill="#f5df98"/>
<circle cx="438.5" cy="25.3" r="1.8" fill="#fffce8"/>
<circle cx="468.8" cy="115.2" r="2.3" fill="#9a4e10"/>
<circle cx="468.8" cy="115.2" r="1.4" fill="#c4872a"/>
<circle cx="411.7" cy="128.4" r="2.4" fill="#d29d3d"/>
<circle cx="411.7" cy="128.4" r="1.5" fill="#edcd7a"/>
<circle cx="449.5" cy="77.7" r="2.4" fill="#c5872a"/>
<circle cx="449.5" cy="77.7" r="1.4" fill="#e3b959"/>
<circle cx="422.1" cy="89.6" r="2.7" fill="#d8a747"/>
<circle cx="422.1" cy="89.6" r="1.6" fill="#f1d68a"/>
<circle cx="432.5" cy="112.5" r="2.6" fill="#e1b555"/>
<circle cx="432.5" cy="112.5" r="1.6" fill="#f7e3a2"/>
<circle cx="430.5" cy="28.0" r="2.7" fill="#faeec1"/>
<circle cx="430.5" cy="28.0" r="1.6" fill="#fffce8"/>
<circle cx="444.1" cy="87.1" r="2.3" fill="#d19b3b"/>
<circle cx="444.1" cy="87.1" r="1.4" fill="#eccb77"/>
<circle cx="406.6" cy="97.5" r="2.2" fill="#cc9333"/>
<circle cx="406.6" cy="97.5" r="1.3" fill="#e9c46a"/>
<circle cx="459.1" cy="27.6" r="2.4" fill="#a75e16"/>
<circle cx="459.1" cy="27.6" r="1.4" fill="#ce9636"/>
<circle cx="454.0" cy="57.2" r="2.4" fill="#d8a646"/>
<circle cx="454.0" cy="57.2" r="1.5" fill="#f1d588"/>
<circle cx="423.2" cy="61.0" r="2.6" fill="#eed07e"/>
<circle cx="423.2" cy="61.0" r="1.6" fill="#fef8de"/>
<circle cx="399.2" cy="61.5" r="2.4" fill="#a96017"/>
<circle cx="399.2" cy="61.5" r="1.4" fill="#cf9838"/>
<circle cx="417.8" cy="22.6" r="2.3" fill="#e5bb5c"/>
<circle cx="417.8" cy="22.6" r="1.4" fill="#f9e8b0"/>
<circle cx="393.2" cy="48.8" r="2.1" fill="#671f02"/>
<circle cx="393.2" cy="48.8" r="1.3" fill="#9c5010"/>
<circle cx="448.1" cy="55.7" r="2.5" fill="#eac66e"/>
<circle cx="448.1" cy="55.7" r="1.5" fill="#fbf1c8"/>
<circle cx="412.9" cy="74.7" r="2.7" fill="#d5a141"/>
<circle cx="412.9" cy="74.7" r="1.6" fill="#efd181"/>
<circle cx="452.1" cy="44.6" r="2.4" fill="#ce9636"/>
<circle cx="452.1" cy="44.6" r="1.5" fill="#eac66e"/>
<circle cx="443.9" cy="36.6" r="2.8" fill="#f3da90"/>
<circle cx="443.9" cy="36.6" r="1.7" fill="#fffce8"/>
<circle cx="453.0" cy="95.1" r="2.2" fill="#d29d3d"/>
<circle cx="453.0" cy="95.1" r="1.3" fill="#edcd7a"/>
<circle cx="466.7" cy="53.2" r="2.1" fill="#893d0b"/>
<circle cx="466.7" cy="53.2" r="1.2" fill="#b87521"/>
<circle cx="450.8" cy="34.4" r="2.6" fill="#deb050"/>
<circle cx="450.8" cy="34.4" r="1.6" fill="#f6e099"/>
<circle cx="430.7" cy="65.3" r="2.5" fill="#e1b656"/>
<circle cx="430.7" cy="65.3" r="1.5" fill="#f7e4a5"/>
<circle cx="463.9" cy="19.0" r="2.2" fill="#6b2103"/>
<circle cx="463.9" cy="19.0" r="1.3" fill="#a05412"/>
<circle cx="439.3" cy="20.0" r="2.7" fill="#efd180"/>
<circle cx="439.3" cy="20.0" r="1.6" fill="#fef9e0"/>
<circle cx="371.7" cy="84.2" r="2.2" fill="#7a2e06"/>
<circle cx="371.7" cy="84.2" r="1.3" fill="#ac6419"/>
<circle cx="402.7" cy="74.7" r="2.3" fill="#b26c1d"/>
<circle cx="402.7" cy="74.7" r="1.4" fill="#d5a242"/>
<circle cx="380.3" cy="36.2" r="2.3" fill="#4c1101"/>
<circle cx="380.3" cy="36.2" r="1.4" fill="#803408"/>
<circle cx="438.3" cy="133.1" r="2.6" fill="#ddae4e"/>
<circle cx="438.3" cy="133.1" r="1.6" fill="#f5dd95"/>
<circle cx="392.8" cy="79.1" r="2.0" fill="#974b0f"/>
<circle cx="392.8" cy="79.1" r="1.2" fill="#c28428"/>
<circle cx="478.3" cy="82.4" r="1.6" fill="#4f1201"/>
<circle cx="478.3" cy="82.4" r="1.0" fill="#833709"/>
<circle cx="442.2" cy="101.6" r="2.5" fill="#e1b656"/>
<circle cx="442.2" cy="101.6" r="1.5" fill="#f7e4a4"/>
<circle cx="461.0" cy="51.8" r="2.5" fill="#a85f16"/>
<circle cx="461.0" cy="51.8" r="1.5" fill="#ce9737"/>
<circle cx="435.4" cy="36.6" r="2.5" fill="#fcf2cc"/>
<circle cx="435.4" cy="36.6" r="1.5" fill="#fffce8"/>
<circle cx="403.8" cy="54.5" r="2.6" fill="#ab6318"/>
<circle cx="403.8" cy="54.5" r="1.5" fill="#d19a3a"/>
<circle cx="427.3" cy="121.5" r="2.4" fill="#ce9636"/>
<circle cx="427.3" cy="121.5" r="1.4" fill="#eac66f"/>
<circle cx="389.7" cy="96.6" r="2.0" fill="#a25612"/>
<circle cx="389.7" cy="96.6" r="1.2" fill="#ca8f2f"/>
<circle cx="471.1" cy="36.6" r="2.1" fill="#6e2303"/>
<circle cx="471.1" cy="36.6" r="1.3" fill="#a35713"/>
<circle cx="450.2" cy="25.6" r="2.4" fill="#d09939"/>
<circle cx="450.2" cy="25.6" r="1.4" fill="#ebc974"/>
<circle cx="451.0" cy="19.3" r="2.4" fill="#e7c064"/>
<circle cx="451.0" cy="19.3" r="1.5" fill="#faecbb"/>
<circle cx="373.3" cy="133.5" r="2.1" fill="#6f2303"/>
<circle cx="373.3" cy="133.5" r="1.2" fill="#a35813"/>
<circle cx="473.4" cy="102.4" r="2.0" fill="#5c1902"/>
<circle cx="473.4" cy="102.4" r="1.2" fill="#91450d"/>
<circle cx="434.1" cy="80.5" r="2.8" fill="#e1b656"/>
<circle cx="434.1" cy="80.5" r="1.7" fill="#f7e4a4"/>
<circle cx="400.5" cy="88.0" r="2.6" fill="#b77420"/>
<circle cx="400.5" cy="88.0" r="1.5" fill="#d9a848"/>
<circle cx="451.5" cy="53.7" r="2.4" fill="#d19a3a"/>
<circle cx="451.5" cy="53.7" r="1.4" fill="#eccb76"/>
<circle cx="446.0" cy="80.6" r="2.4" fill="#d39f3f"/>
<circle cx="446.0" cy="80.6" r="1.5" fill="#eecf7d"/>
<circle cx="457.2" cy="60.2" r="2.0" fill="#a45914"/>
<circle cx="457.2" cy="60.2" r="1.2" fill="#cc9232"/>
<circle cx="453.6" cy="61.9" r="2.2" fill="#d6a343"/>
<circle cx="453.6" cy="61.9" r="1.3" fill="#f0d283"/>
<circle cx="401.7" cy="123.7" r="2.4" fill="#af681b"/>
<circle cx="401.7" cy="123.7" r="1.4" fill="#d39e3e"/>
<circle cx="425.9" cy="101.2" r="2.8" fill="#e6bf62"/>
<circle cx="425.9" cy="101.2" r="1.7" fill="#faebb8"/>
<circle cx="415.2" cy="114.5" r="2.4" fill="#d8a747"/>
<circle cx="415.2" cy="114.5" r="1.4" fill="#f2d78a"/>
<circle cx="423.5" cy="25.3" r="2.7" fill="#f1d587"/>
<circle cx="423.5" cy="25.3" r="1.6" fill="#fffce8"/>
<circle cx="444.8" cy="117.7" r="2.2" fill="#cd9535"/>
<circle cx="444.8" cy="117.7" r="1.3" fill="#e9c56d"/>
<circle cx="472.1" cy="32.2" r="2.0" fill="#4d1101"/>
<circle cx="472.1" cy="32.2" r="1.2" fill="#813508"/>
<circle cx="470.4" cy="45.6" r="2.0" fill="#631d02"/>
<circle cx="470.4" cy="45.6" r="1.2" fill="#974b0f"/>
<circle cx="376.9" cy="52.4" r="1.9" fill="#651e02"/>
<circle cx="376.9" cy="52.4" r="1.1" fill="#9a4e10"/>
<circle cx="405.2" cy="40.1" r="2.4" fill="#b16c1d"/>
<circle cx="405.2" cy="40.1" r="1.4" fill="#d5a242"/>
<circle cx="381.3" cy="31.5" r="1.9" fill="#692003"/>
<circle cx="381.3" cy="31.5" r="1.1" fill="#9e5211"/>
<circle cx="411.9" cy="59.7" r="2.7" fill="#d7a444"/>
<circle cx="411.9" cy="59.7" r="1.6" fill="#f0d485"/>
<circle cx="399.4" cy="102.7" r="2.4" fill="#b36e1d"/>
<circle cx="399.4" cy="102.7" r="1.4" fill="#d6a343"/>
<circle cx="423.7" cy="111.8" r="2.4" fill="#d4a040"/>
<circle cx="423.7" cy="111.8" r="1.4" fill="#efd07f"/>
<circle cx="474.7" cy="94.6" r="2.3" fill="#762a05"/>
<circle cx="474.7" cy="94.6" r="1.4" fill="#a96017"/>
<circle cx="450.3" cy="81.6" r="2.4" fill="#c38528"/>
<circle cx="450.3" cy="81.6" r="1.5" fill="#e2b757"/>
<circle cx="437.7" cy="113.7" r="2.7" fill="#d29d3d"/>
<circle cx="437.7" cy="113.7" r="1.6" fill="#edcd7a"/>
<circle cx="463.1" cy="56.4" r="2.3" fill="#92460d"/>
<circle cx="463.1" cy="56.4" r="1.4" fill="#be7e25"/>
<circle cx="392.5" cy="119.2" r="2.2" fill="#a35813"/>
<circle cx="392.5" cy="119.2" r="1.3" fill="#cb9131"/>
<circle cx="402.8" cy="116.0" r="2.3" fill="#cf9737"/>
<circle cx="402.8" cy="116.0" r="1.4" fill="#eac871"/>
<circle cx="393.5" cy="103.0" r="2.1" fill="#b5711f"/>
<circle cx="393.5" cy="103.0" r="1.3" fill="#d8a646"/>
<circle cx="376.1" cy="35.8" r="2.2" fill="#531401"/>
<circle cx="376.1" cy="35.8" r="1.3" fill="#873b0a"/>
<circle cx="453.4" cy="128.0" r="2.6" fill="#d5a242"/>
<circle cx="453.4" cy="128.0" r="1.5" fill="#efd282"/>
<circle cx="398.7" cy="133.0" r="2.3" fill="#c28328"/>
<circle cx="398.7" cy="133.0" r="1.4" fill="#e1b555"/>
<circle cx="460.2" cy="15.6" r="2.5" fill="#b26c1d"/>
<circle cx="460.2" cy="15.6" r="1.5" fill="#d6a242"/>
<circle cx="373.4" cy="42.4" r="1.9" fill="#5d1a02"/>
<circle cx="373.4" cy="42.4" r="1.2" fill="#92460d"/>
<circle cx="432.6" cy="92.7" r="2.3" fill="#e2b656"/>
<circle cx="432.6" cy="92.7" r="1.4" fill="#f7e4a6"/>
<circle cx="404.1" cy="60.4" r="2.1" fill="#ab6318"/>
<circle cx="404.1" cy="60.4" r="1.3" fill="#d09a3a"/>
<circle cx="400.9" cy="69.2" r="2.2" fill="#9f5311"/>
<circle cx="400.9" cy="69.2" r="1.3" fill="#c88c2c"/>
<circle cx="475.4" cy="42.7" r="2.0" fill="#370800"/>
<circle cx="475.4" cy="42.7" r="1.2" fill="#682003"/>
<circle cx="379.1" cy="15.4" r="2.0" fill="#631d02"/>
<circle cx="379.1" cy="15.4" r="1.2" fill="#974b0f"/>
<circle cx="374.6" cy="101.6" r="1.9" fill="#712503"/>
<circle cx="374.6" cy="101.6" r="1.1" fill="#a55a14"/>
<circle cx="447.9" cy="46.0" r="2.6" fill="#e5bd5e"/>
<circle cx="447.9" cy="46.0" r="1.6" fill="#f9e9b3"/>
<circle cx="442.8" cy="27.4" r="2.5" fill="#f4db92"/>
<circle cx="442.8" cy="27.4" r="1.5" fill="#fffce8"/>
<circle cx="456.1" cy="30.3" r="2.1" fill="#b16c1c"/>
<circle cx="456.1" cy="30.3" r="1.3" fill="#d5a141"/>
<circle cx="479.8" cy="104.0" r="2.0" fill="#571601"/>
<circle cx="479.8" cy="104.0" r="1.2" fill="#8b3f0b"/>
<circle cx="449.5" cy="93.0" r="2.2" fill="#e0b454"/>
<circle cx="449.5" cy="93.0" r="1.3" fill="#f7e2a0"/>
<circle cx="415.9" cy="87.8" r="2.3" fill="#cd9434"/>
<circle cx="415.9" cy="87.8" r="1.4" fill="#e9c46c"/>
<circle cx="462.2" cy="46.0" r="1.9" fill="#984c0f"/>
<circle cx="462.2" cy="46.0" r="1.1" fill="#c38529"/>
<circle cx="484.1" cy="134.0" r="2.2" fill="#350700"/>
<circle cx="484.1" cy="134.0" r="1.3" fill="#651e02"/>
<circle cx="414.7" cy="47.0" r="2.3" fill="#d19a3a"/>
<circle cx="414.7" cy="47.0" r="1.4" fill="#eccb76"/>
<circle cx="478.9" cy="71.6" r="2.1" fill="#380800"/>
<circle cx="478.9" cy="71.6" r="1.3" fill="#6a2103"/>
<circle cx="383.8" cy="104.2" r="2.0" fill="#843809"/>
<circle cx="383.8" cy="104.2" r="1.2" fill="#b4701e"/>
<circle cx="486.3" cy="89.5" r="1.9" fill="#290400"/>
<circle cx="486.3" cy="89.5" r="1.2" fill="#561601"/>
<circle cx="463.9" cy="28.3" r="2.4" fill="#883c0a"/>
<circle cx="463.9" cy="28.3" r="1.4" fill="#b77420"/>
<circle cx="421.8" cy="15.2" r="2.5" fill="#e2b757"/>
<circle cx="421.8" cy="15.2" r="1.5" fill="#f7e4a6"/>
<circle cx="471.4" cy="85.3" r="2.2" fill="#792d06"/>
<circle cx="471.4" cy="85.3" r="1.3" fill="#ab6318"/>
<circle cx="469.8" cy="121.5" r="2.4" fill="#6f2303"/>
<circle cx="469.8" cy="121.5" r="1.4" fill="#a35813"/>
<circle cx="439.0" cy="83.6" r="2.5" fill="#e4bb5b"/>
<circle cx="439.0" cy="83.6" r="1.5" fill="#f8e8af"/>
<circle cx="398.9" cy="117.4" r="2.2" fill="#b26d1d"/>
<circle cx="398.9" cy="117.4" r="1.3" fill="#d6a242"/>
<circle cx="395.7" cy="15.1" r="1.8" fill="#8e420c"/>
<circle cx="395.7" cy="15.1" r="1.1" fill="#bc7a24"/>
<circle cx="414.5" cy="102.7" r="2.4" fill="#dfb252"/>
<circle cx="414.5" cy="102.7" r="1.4" fill="#f6e19d"/>
<circle cx="446.7" cy="27.6" r="2.6" fill="#e2b656"/>
<circle cx="446.7" cy="27.6" r="1.6" fill="#f7e4a5"/>
<circle cx="485.8" cy="67.5" r="1.9" fill="#4d1101"/>
<circle cx="485.8" cy="67.5" r="1.2" fill="#813508"/>
<circle cx="474.4" cy="63.6" r="2.2" fill="#490f01"/>
<circle cx="474.4" cy="63.6" r="1.3" fill="#7d3107"/>
<circle cx="431.6" cy="50.8" r="3.0" fill="#f5de96"/>
<circle cx="431.6" cy="50.8" r="1.8" fill="#fffce8"/>
<circle cx="421.5" cy="42.1" r="2.5" fill="#edcd7b"/>
<circle cx="421.5" cy="42.1" r="1.5" fill="#fdf6d8"/>
<circle cx="485.8" cy="121.0" r="2.1" fill="#380800"/>
<circle cx="485.8" cy="121.0" r="1.3" fill="#692003"/>
<circle cx="472.7" cy="21.9" r="2.2" fill="#4f1201"/>
<circle cx="472.7" cy="21.9" r="1.3" fill="#833709"/>
<circle cx="458.0" cy="98.1" r="2.4" fill="#c6892b"/>
<circle cx="458.0" cy="98.1" r="1.4" fill="#e4bb5b"/>
<circle cx="481.1" cy="129.4" r="2.2" fill="#3f0a00"/>
<circle cx="481.1" cy="129.4" r="1.3" fill="#722604"/>
<circle cx="405.9" cy="80.1" r="2.5" fill="#c38428"/>
<circle cx="405.9" cy="80.1" r="1.5" fill="#e2b757"/>
<circle cx="428.3" cy="105.5" r="2.3" fill="#d09939"/>
<circle cx="428.3" cy="105.5" r="1.4" fill="#ebc974"/>
<circle cx="439.7" cy="58.8" r="2.6" fill="#ecca75"/>
<circle cx="439.7" cy="58.8" r="1.6" fill="#fcf4d1"/>
<circle cx="470.9" cy="105.9" r="2.1" fill="#692003"/>
<circle cx="470.9" cy="105.9" r="1.3" fill="#9e5211"/>
<circle cx="411.5" cy="86.4" r="2.5" fill="#c08026"/>
<circle cx="411.5" cy="86.4" r="1.5" fill="#e0b353"/>
<circle cx="482.8" cy="24.6" r="1.9" fill="#2f0500"/>
<circle cx="482.8" cy="24.6" r="1.2" fill="#5d1a02"/>
<circle cx="406.8" cy="27.4" r="2.2" fill="#b26d1d"/>
<circle cx="406.8" cy="27.4" r="1.3" fill="#d6a242"/>
<circle cx="372.2" cy="16.0" r="1.9" fill="#671f02"/>
<circle cx="372.2" cy="16.0" r="1.1" fill="#9c5010"/>
<circle cx="446.7" cy="74.7" r="2.5" fill="#d09939"/>
<circle cx="446.7" cy="74.7" r="1.5" fill="#ebca74"/>
<circle cx="408.9" cy="94.1" r="2.3" fill="#dbab4b"/>
<circle cx="408.9" cy="94.1" r="1.4" fill="#f3da91"/>
<circle cx="451.7" cy="30.2" r="2.3" fill="#e1b555"/>
<circle cx="451.7" cy="30.2" r="1.4" fill="#f7e3a3"/>
<circle cx="406.9" cy="116.8" r="2.5" fill="#d9a848"/>
<circle cx="406.9" cy="116.8" r="1.5" fill="#f2d88c"/>
<circle cx="467.8" cy="79.8" r="2.3" fill="#8b3f0b"/>
<circle cx="467.8" cy="79.8" r="1.4" fill="#b97722"/>
<circle cx="386.3" cy="93.0" r="2.2" fill="#a05412"/>
<circle cx="386.3" cy="93.0" r="1.3" fill="#c98e2e"/>
<circle cx="423.9" cy="116.1" r="2.2" fill="#ddae4e"/>
<circle cx="423.9" cy="116.1" r="1.3" fill="#f5dd95"/>
<circle cx="468.3" cy="95.0" r="2.4" fill="#974b0f"/>
<circle cx="468.3" cy="95.0" r="1.4" fill="#c28428"/>
<circle cx="378.0" cy="90.4" r="2.1" fill="#651e02"/>
<circle cx="378.0" cy="90.4" r="1.2" fill="#9a4e10"/>
<circle cx="388.9" cy="132.0" r="2.0" fill="#843809"/>
<circle cx="388.9" cy="132.0" r="1.2" fill="#b36f1e"/>
<circle cx="442.7" cy="17.5" r="2.5" fill="#f8e7ad"/>
<circle cx="442.7" cy="17.5" r="1.5" fill="#fffce8"/>
<circle cx="434.6" cy="123.5" r="2.6" fill="#d6a444"/>
<circle cx="434.6" cy="123.5" r="1.6" fill="#f0d385"/>
<circle cx="443.6" cy="113.2" r="2.3" fill="#cb9030"/>
<circle cx="443.6" cy="113.2" r="1.4" fill="#e7c166"/>
<circle cx="404.3" cy="120.3" r="2.3" fill="#c98e2e"/>
<circle cx="404.3" cy="120.3" r="1.4" fill="#e6bf62"/>
<circle cx="437.1" cy="42.6" r="2.8" fill="#faebb9"/>
<circle cx="437.1" cy="42.6" r="1.7" fill="#fffce8"/>
<circle cx="486.8" cy="54.9" r="1.6" fill="#330700"/>
<circle cx="486.8" cy="54.9" r="1.0" fill="#631d02"/>
<circle cx="425.5" cy="44.3" r="2.9" fill="#faebba"/>
<circle cx="425.5" cy="44.3" r="1.7" fill="#fffce8"/>
<circle cx="427.8" cy="32.1" r="2.5" fill="#fcf3ce"/>
<circle cx="427.8" cy="32.1" r="1.5" fill="#fffce8"/>
<circle cx="465.9" cy="124.4" r="2.2" fill="#91450d"/>
<circle cx="465.9" cy="124.4" r="1.3" fill="#bd7d25"/>
<circle cx="410.1" cy="80.8" r="2.1" fill="#c5882a"/>
<circle cx="410.1" cy="80.8" r="1.3" fill="#e4ba5a"/>
<circle cx="465.9" cy="15.1" r="2.1" fill="#873b0a"/>
<circle cx="465.9" cy="15.1" r="1.2" fill="#b67220"/>
<circle cx="427.2" cy="67.1" r="2.9" fill="#e2b757"/>
<circle cx="427.2" cy="67.1" r="1.7" fill="#f8e5a8"/>
<circle cx="456.0" cy="87.5" r="2.3" fill="#b16b1c"/>
<circle cx="456.0" cy="87.5" r="1.4" fill="#d5a141"/>
<circle cx="417.4" cy="98.7" r="2.5" fill="#d4a040"/>
<circle cx="417.4" cy="98.7" r="1.5" fill="#eed07e"/>
<circle cx="459.0" cy="79.4" r="2.4" fill="#b77420"/>
<circle cx="459.0" cy="79.4" r="1.5" fill="#d9a949"/>
<circle cx="398.6" cy="94.2" r="2.3" fill="#ba7722"/>
<circle cx="398.6" cy="94.2" r="1.4" fill="#dbac4c"/>
<circle cx="422.4" cy="97.4" r="2.7" fill="#d5a242"/>
<circle cx="422.4" cy="97.4" r="1.6" fill="#efd282"/>
<circle cx="434.9" cy="116.8" r="2.5" fill="#e2b757"/>
<circle cx="434.9" cy="116.8" r="1.5" fill="#f7e4a6"/>
<circle cx="465.3" cy="60.5" r="2.0" fill="#863a0a"/>
<circle cx="465.3" cy="60.5" r="1.2" fill="#b6721f"/>
<circle cx="403.4" cy="83.6" r="2.1" fill="#b87521"/>
<circle cx="403.4" cy="83.6" r="1.3" fill="#daa949"/>
<circle cx="430.6" cy="23.8" r="2.5" fill="#fbefc5"/>
<circle cx="430.6" cy="23.8" r="1.5" fill="#fffce8"/>
<circle cx="388.7" cy="39.3" r="2.1" fill="#5f1b02"/>
<circle cx="388.7" cy="39.3" r="1.3" fill="#93470e"/>
<circle cx="381.6" cy="122.6" r="2.1" fill="#853909"/>
<circle cx="381.6" cy="122.6" r="1.2" fill="#b5711f"/>
<circle cx="486.5" cy="98.4" r="1.9" fill="#571601"/>
<circle cx="486.5" cy="98.4" r="1.1" fill="#8b3f0b"/>
<circle cx="408.6" cy="72.6" r="2.1" fill="#c28428"/>
<circle cx="408.6" cy="72.6" r="1.3" fill="#e2b656"/>
<circle cx="455.3" cy="77.1" r="2.1" fill="#ca8f2f"/>
<circle cx="455.3" cy="77.1" r="1.2" fill="#e7bf63"/>
<circle cx="428.8" cy="74.6" r="2.3" fill="#deb050"/>
<circle cx="428.8" cy="74.6" r="1.4" fill="#f6e099"/>
<circle cx="464.7" cy="88.8" r="2.1" fill="#ac6419"/>
<circle cx="464.7" cy="88.8" r="1.3" fill="#d19b3b"/>
<circle cx="480.3" cy="49.8" r="1.8" fill="#400a00"/>
<circle cx="480.3" cy="49.8" r="1.1" fill="#742804"/>
<circle cx="405.5" cy="47.5" r="2.2" fill="#b67320"/>
<circle cx="405.5" cy="47.5" r="1.3" fill="#d9a848"/>
<circle cx="396.4" cy="68.7" r="2.4" fill="#ab6318"/>
<circle cx="396.4" cy="68.7" r="1.4" fill="#d19a3a"/>
<circle cx="487.0" cy="130.1" r="1.7" fill="#2a0400"/>
<circle cx="487.0" cy="130.1" r="1.0" fill="#571701"/>
<circle cx="486.3" cy="105.7" r="2.1" fill="#490f01"/>
<circle cx="486.3" cy="105.7" r="1.2" fill="#7d3107"/>
<circle cx="389.1" cy="24.8" r="2.0" fill="#571601"/>
<circle cx="389.1" cy="24.8" r="1.2" fill="#8b3f0b"/>
<circle cx="486.6" cy="41.5" r="1.6" fill="#2e0500"/>
<circle cx="486.6" cy="41.5" r="1.0" fill="#5d1902"/>
<circle cx="423.2" cy="107.7" r="2.5" fill="#e5bc5e"/>
<circle cx="423.2" cy="107.7" r="1.5" fill="#f9e9b2"/>
<circle cx="461.1" cy="130.7" r="2.4" fill="#c08127"/>
<circle cx="461.1" cy="130.7" r="1.4" fill="#e0b454"/>
<circle cx="371.2" cy="28.6" r="2.1" fill="#571601"/>
<circle cx="371.2" cy="28.6" r="1.3" fill="#8b3f0b"/>
<circle cx="426.7" cy="87.7" r="2.3" fill="#e1b555"/>
<circle cx="426.7" cy="87.7" r="1.4" fill="#f7e3a4"/>
<circle cx="461.2" cy="104.1" r="2.4" fill="#c08127"/>
<circle cx="461.2" cy="104.1" r="1.4" fill="#e0b454"/>
<circle cx="416.6" cy="51.3" r="2.3" fill="#e0b454"/>
<circle cx="416.6" cy="51.3" r="1.4" fill="#f7e2a0"/>
<circle cx="410.5" cy="55.7" r="2.5" fill="#ca8f2f"/>
<circle cx="410.5" cy="55.7" r="1.5" fill="#e7c064"/>
<circle cx="449.9" cy="14.9" r="2.4" fill="#d9a848"/>
<circle cx="449.9" cy="14.9" r="1.5" fill="#f2d88c"/>
<circle cx="406.6" cy="23.2" r="2.2" fill="#b16b1c"/>
<circle cx="406.6" cy="23.2" r="1.3" fill="#d5a141"/>
<circle cx="401.3" cy="79.0" r="2.1" fill="#ba7822"/>
<circle cx="401.3" cy="79.0" r="1.3" fill="#dbac4c"/>
<circle cx="409.2" cy="104.9" r="2.4" fill="#d09838"/>
<circle cx="409.2" cy="104.9" r="1.5" fill="#ebc973"/>
<circle cx="472.2" cy="117.9" r="2.4" fill="#661e02"/>
<circle cx="472.2" cy="117.9" r="1.4" fill="#9b4f10"/>
<circle cx="411.3" cy="51.0" r="2.3" fill="#d09939"/>
<circle cx="411.3" cy="51.0" r="1.4" fill="#ebca75"/>
</g>
</g>
<rect x="456.6" y="121.2" width="22.4" height="2.8" fill="#fff"/>
<text x="467.4" y="132.4" font-size="8" font-weight="bold" fill="#fff" text-anchor="middle" font-family="'DejaVu Sans', 'Liberation Sans', sans-serif">2µm</text>
<rect x="491.3" y="31" width="24.4" height="99.8" fill="url(#cbar)"/>
<rect x="491.3" y="31" width="24.4" height="99.8" fill="none" stroke="#999" stroke-width="0.5"/>
<text x="505.3" y="28.3" font-size="8.2" fill="#262626" text-anchor="middle" >nm</text>
<text x="505.3" y="40.0" font-size="8" fill="#222" text-anchor="middle" >2.47</text>
<text x="505.0" y="85.3" font-size="8" fill="#f6e2d8" text-anchor="middle" >0.00</text>
<text x="504.6" y="130.0" font-size="7.7" fill="#fff" text-anchor="middle" >-2.47</text>
<text x="356.6" y="16.9" font-size="12.6" fill="#111" text-anchor="start" stroke="#111" stroke-width="0.22">(c)</text>
</g>
<g id="panel-d">
<rect x="38.6" y="155.5" width="121.80000000000001" height="188.5" fill="none" stroke="#222" stroke-width="1"/>
<path d="M45.6,344v-4M45.6,155.5v4M68.4,344v-2M68.4,155.5v2M81.8,344v-2M81.8,155.5v2M91.2,344v-2M91.2,155.5v2M98.6,344v-2M98.6,155.5v2M104.6,344v-2M104.6,155.5v2M109.7,344v-2M109.7,155.5v2M114.1,344v-2M114.1,155.5v2M117.9,344v-2M117.9,155.5v2M121.4,344v-4M121.4,155.5v4M144.2,344v-2M144.2,155.5v2M157.6,344v-2M157.6,155.5v2M42.1,344v-2M42.1,155.5v2M38.6,249.8h4.5M160.4,249.8h-4.5M38.6,315.6h2.5M160.4,315.6h-2.5M38.6,299.0h2.5M160.4,299.0h-2.5M38.6,287.3h2.5M160.4,287.3h-2.5M38.6,278.1h2.5M160.4,278.1h-2.5M38.6,270.7h2.5M160.4,270.7h-2.5M38.6,264.3h2.5M160.4,264.3h-2.5M38.6,258.9h2.5M160.4,258.9h-2.5M38.6,254.1h2.5M160.4,254.1h-2.5M38.6,221.4h2.5M160.4,221.4h-2.5M38.6,204.8h2.5M160.4,204.8h-2.5M38.6,193.0h2.5M160.4,193.0h-2.5M38.6,183.9h2.5M160.4,183.9h-2.5M38.6,176.4h2.5M160.4,176.4h-2.5M38.6,170.1h2.5M160.4,170.1h-2.5M38.6,164.6h2.5M160.4,164.6h-2.5M38.6,159.8h2.5M160.4,159.8h-2.5" stroke="#222" stroke-width="0.9" fill="none"/>
<polyline points="45.6,170.0 81.8,171.0 98.6,172.6 109.7,174.6 117.9,176.6 124.5,178.6 130.0,181.6 134.7,185.0 138.9,189.4 142.5,195.4 145.8,202.0 148.8,208.0 151.6,214.6 154.1,221.0 156.4,227.0 157.6,231.0" fill="none" stroke="#e0101c" stroke-width="0.7"/>
<rect x="43.85" y="168.25" width="3.5" height="3.5" fill="#e0101c"/>
<rect x="80.02" y="169.25" width="3.5" height="3.5" fill="#e0101c"/>
<rect x="96.83" y="170.85" width="3.5" height="3.5" fill="#e0101c"/>
<rect x="107.91" y="172.85" width="3.5" height="3.5" fill="#e0101c"/>
<rect x="116.18" y="174.85" width="3.5" height="3.5" fill="#e0101c"/>
<rect x="122.79" y="176.85" width="3.5" height="3.5" fill="#e0101c"/>
<rect x="128.29" y="179.85" width="3.5" height="3.5" fill="#e0101c"/>
<rect x="133.00" y="183.25" width="3.5" height="3.5" fill="#e0101c"/>
<rect x="137.12" y="187.65" width="3.5" height="3.5" fill="#e0101c"/>
<rect x="140.78" y="193.65" width="3.5" height="3.5" fill="#e0101c"/>
<rect x="144.07" y="200.25" width="3.5" height="3.5" fill="#e0101c"/>
<rect x="147.07" y="206.25" width="3.5" height="3.5" fill="#e0101c"/>
<rect x="149.81" y="212.85" width="3.5" height="3.5" fill="#e0101c"/>
<rect x="152.35" y="219.25" width="3.5" height="3.5" fill="#e0101c"/>
<rect x="154.70" y="225.25" width="3.5" height="3.5" fill="#e0101c"/>
<rect x="155.82" y="229.25" width="3.5" height="3.5" fill="#e0101c"/>
<polyline points="45.6,301.6 81.8,301.0 98.6,299.6 109.7,297.0 117.9,295.0 124.5,293.0 130.0,291.6 134.7,291.0 138.9,291.0 142.5,291.6 145.8,292.6 148.8,294.2 151.6,296.2 154.1,298.0 156.4,300.0 157.6,301.0" fill="none" stroke="#000" stroke-width="0.7"/>
<circle cx="45.6" cy="301.6" r="1.95" fill="#000"/>
<circle cx="81.8" cy="301.0" r="1.95" fill="#000"/>
<circle cx="98.6" cy="299.6" r="1.95" fill="#000"/>
<circle cx="109.7" cy="297.0" r="1.95" fill="#000"/>
<circle cx="117.9" cy="295.0" r="1.95" fill="#000"/>
<circle cx="124.5" cy="293.0" r="1.95" fill="#000"/>
<circle cx="130.0" cy="291.6" r="1.95" fill="#000"/>
<circle cx="134.7" cy="291.0" r="1.95" fill="#000"/>
<circle cx="138.9" cy="291.0" r="1.95" fill="#000"/>
<circle cx="142.5" cy="291.6" r="1.95" fill="#000"/>
<circle cx="145.8" cy="292.6" r="1.95" fill="#000"/>
<circle cx="148.8" cy="294.2" r="1.95" fill="#000"/>
<circle cx="151.6" cy="296.2" r="1.95" fill="#000"/>
<circle cx="154.1" cy="298.0" r="1.95" fill="#000"/>
<circle cx="156.4" cy="300.0" r="1.95" fill="#000"/>
<circle cx="157.6" cy="301.0" r="1.95" fill="#000"/>
<text x="19.8" y="158.8" font-size="8.6" fill="#222">10<tspan font-size="5.8" dy="-3.4">4</tspan></text>
<text x="19.8" y="252" font-size="8.6" fill="#222">10<tspan font-size="5.8" dy="-3.4">3</tspan></text>
<text x="19.8" y="347.6" font-size="8.6" fill="#222">10<tspan font-size="5.8" dy="-3.4">2</tspan></text>
<text x="45.8" y="357.2" font-size="8.3" fill="#222" text-anchor="middle" >10</text>
<text x="121.6" y="357.2" font-size="8.3" fill="#222" text-anchor="middle" >100</text>
<text x="95.3" y="370.0" font-size="12.1" fill="#222" text-anchor="middle" >Temperature (K)</text>
<text x="46.4" y="189.3" font-size="9" fill="#e0101c" text-anchor="start" >AlScN/AlN/GaN</text>
<text x="50.4" y="317.2" font-size="9" fill="#222" text-anchor="start" >AlScN/GaN</text>
<text transform="translate(12.2,249) rotate(-90)" font-size="12" fill="#222" text-anchor="middle">µ<tspan font-size="7.5" dy="2.4">e</tspan><tspan dy="-2.4"> (cm</tspan><tspan font-size="7.5" dy="-4">2</tspan><tspan dy="4">/V.s)</tspan></text>
<text x="4.2" y="147.3" font-size="12.6" fill="#222" text-anchor="start" >(d)</text>
</g>
<g id="panel-e">
<rect x="219.5" y="156" width="122.89999999999998" height="188" fill="none" stroke="#222" stroke-width="1"/>
<path d="M225.8,344v-4M225.8,156v4M247.8,344v-2M247.8,156v2M260.6,344v-2M260.6,156v2M269.8,344v-2M269.8,156v2M276.8,344v-2M276.8,156v2M282.6,344v-2M282.6,156v2M287.5,344v-2M287.5,156v2M291.7,344v-2M291.7,156v2M295.5,344v-2M295.5,156v2M298.8,344v-4M298.8,156v4M320.8,344v-2M320.8,156v2M333.6,344v-2M333.6,156v2M222.5,344v-2M222.5,156v2M219.5,225.3h4.5M342.4,225.3h-4.5M219.5,162.0h2.5M342.4,162.0h-2.5M219.5,168.7h2.5M342.4,168.7h-2.5M219.5,175.7h2.5M342.4,175.7h-2.5M219.5,182.8h2.5M342.4,182.8h-2.5M219.5,190.1h2.5M342.4,190.1h-2.5M219.5,197.5h2.5M342.4,197.5h-2.5M219.5,206.0h2.5M342.4,206.0h-2.5M219.5,215.0h2.5M342.4,215.0h-2.5M219.5,234.7h2.5M342.4,234.7h-2.5M219.5,245.5h2.5M342.4,245.5h-2.5M219.5,256.4h2.5M342.4,256.4h-2.5M219.5,267.9h2.5M342.4,267.9h-2.5M219.5,280.4h2.5M342.4,280.4h-2.5M219.5,294.7h2.5M342.4,294.7h-2.5M219.5,309.4h2.5M342.4,309.4h-2.5M219.5,326.0h2.5M342.4,326.0h-2.5" stroke="#222" stroke-width="0.9" fill="none"/>
<polyline points="225.8,220.7 260.6,220.2 276.8,222.0 287.5,226.0 295.5,230.8 301.8,234.8 307.1,236.8 311.7,236.8 315.6,235.1 319.1,231.8 322.3,227.8 325.2,223.2 327.8,218.5 330.3,213.9 332.6,210.2 333.6,208.9" fill="none" stroke="#000" stroke-width="0.7"/>
<circle cx="225.8" cy="220.7" r="1.95" fill="#000"/>
<circle cx="260.6" cy="220.2" r="1.95" fill="#000"/>
<circle cx="276.8" cy="222.0" r="1.95" fill="#000"/>
<circle cx="287.5" cy="226.0" r="1.95" fill="#000"/>
<circle cx="295.5" cy="230.8" r="1.95" fill="#000"/>
<circle cx="301.8" cy="234.8" r="1.95" fill="#000"/>
<circle cx="307.1" cy="236.8" r="1.95" fill="#000"/>
<circle cx="311.7" cy="236.8" r="1.95" fill="#000"/>
<circle cx="315.6" cy="235.1" r="1.95" fill="#000"/>
<circle cx="319.1" cy="231.8" r="1.95" fill="#000"/>
<circle cx="322.3" cy="227.8" r="1.95" fill="#000"/>
<circle cx="325.2" cy="223.2" r="1.95" fill="#000"/>
<circle cx="327.8" cy="218.5" r="1.95" fill="#000"/>
<circle cx="330.3" cy="213.9" r="1.95" fill="#000"/>
<circle cx="332.6" cy="210.2" r="1.95" fill="#000"/>
<circle cx="333.6" cy="208.9" r="1.95" fill="#000"/>
<polyline points="225.8,266.0 260.6,264.7 276.8,263.5 287.5,262.2 295.5,261.2 301.8,260.5 307.1,259.2 311.7,257.4 315.6,255.4 319.1,253.2 322.3,250.4 325.2,247.1 327.8,243.4 330.3,239.1 332.6,234.6 333.6,231.5" fill="none" stroke="#e0101c" stroke-width="0.7"/>
<rect x="224.05" y="264.25" width="3.5" height="3.5" fill="#e0101c"/>
<rect x="258.88" y="262.95" width="3.5" height="3.5" fill="#e0101c"/>
<rect x="275.07" y="261.75" width="3.5" height="3.5" fill="#e0101c"/>
<rect x="285.74" y="260.45" width="3.5" height="3.5" fill="#e0101c"/>
<rect x="293.71" y="259.45" width="3.5" height="3.5" fill="#e0101c"/>
<rect x="300.07" y="258.75" width="3.5" height="3.5" fill="#e0101c"/>
<rect x="305.37" y="257.45" width="3.5" height="3.5" fill="#e0101c"/>
<rect x="309.90" y="255.65" width="3.5" height="3.5" fill="#e0101c"/>
<rect x="313.87" y="253.65" width="3.5" height="3.5" fill="#e0101c"/>
<rect x="317.40" y="251.45" width="3.5" height="3.5" fill="#e0101c"/>
<rect x="320.57" y="248.65" width="3.5" height="3.5" fill="#e0101c"/>
<rect x="323.46" y="245.35" width="3.5" height="3.5" fill="#e0101c"/>
<rect x="326.10" y="241.65" width="3.5" height="3.5" fill="#e0101c"/>
<rect x="328.54" y="237.35" width="3.5" height="3.5" fill="#e0101c"/>
<rect x="330.81" y="232.85" width="3.5" height="3.5" fill="#e0101c"/>
<rect x="331.88" y="229.75" width="3.5" height="3.5" fill="#e0101c"/>
<text x="187.8" y="159.2" font-size="8.6" fill="#222">3×10<tspan font-size="5.8" dy="-3.4">13</tspan></text>
<text x="188.8" y="228.4" font-size="8.6" fill="#222">2×10<tspan font-size="5.8" dy="-3.4">13</tspan></text>
<text x="198.6" y="347.8" font-size="8.6" fill="#222">10<tspan font-size="5.8" dy="-3.4">13</tspan></text>
<text x="226.9" y="357.2" font-size="8.3" fill="#222" text-anchor="middle" >10</text>
<text x="299.4" y="357.2" font-size="8.3" fill="#222" text-anchor="middle" >100</text>
<text x="277.2" y="368.3" font-size="11.6" fill="#222" text-anchor="middle" >Temperature (K)</text>
<text transform="translate(179.6,276.4) rotate(-90)" font-size="13.2" fill="#222">N<tspan font-size="8.4" dy="2.8">s</tspan><tspan dy="-2.8"> (cm</tspan><tspan font-size="8.4" dy="-4.6">-2</tspan><tspan dy="4.6">)</tspan></text>
<text x="187.4" y="147.8" font-size="12.6" fill="#222" text-anchor="start" >(e)</text>
</g>
<g id="panel-f">
<rect x="396" y="156.2" width="120.39999999999998" height="187.8" fill="none" stroke="#222" stroke-width="1"/>
<path d="M402.6,344v-4M402.6,156.2v4M424.1,344v-2M424.1,156.2v2M436.7,344v-2M436.7,156.2v2M445.6,344v-2M445.6,156.2v2M452.5,344v-2M452.5,156.2v2M458.2,344v-2M458.2,156.2v2M462.9,344v-2M462.9,156.2v2M467.1,344v-2M467.1,156.2v2M470.7,344v-2M470.7,156.2v2M474.0,344v-4M474.0,156.2v4M495.5,344v-2M495.5,156.2v2M508.1,344v-2M508.1,156.2v2M399.3,344v-2M399.3,156.2v2M396,268.2h4.5M516.4,268.2h-4.5M396,192.4h4.5M516.4,192.4h-4.5M396,321.2h2.5M516.4,321.2h-2.5M396,307.8h2.5M516.4,307.8h-2.5M396,298.4h2.5M516.4,298.4h-2.5M396,291.0h2.5M516.4,291.0h-2.5M396,285.0h2.5M516.4,285.0h-2.5M396,279.9h2.5M516.4,279.9h-2.5M396,275.5h2.5M516.4,275.5h-2.5M396,271.7h2.5M516.4,271.7h-2.5M396,245.4h2.5M516.4,245.4h-2.5M396,232.0h2.5M516.4,232.0h-2.5M396,222.6h2.5M516.4,222.6h-2.5M396,215.2h2.5M516.4,215.2h-2.5M396,209.2h2.5M516.4,209.2h-2.5M396,204.1h2.5M516.4,204.1h-2.5M396,199.7h2.5M516.4,199.7h-2.5M396,195.9h2.5M516.4,195.9h-2.5M396,169.6h2.5M516.4,169.6h-2.5" stroke="#222" stroke-width="0.9" fill="none"/>
<polyline points="402.6,189.6 436.7,190.4 452.5,191.4 462.9,192.4 470.7,193.4 477.0,194.2 482.1,194.6 486.6,195.0 490.5,195.0 493.9,195.0 497.0,194.8 499.8,194.4 502.4,194.0 504.8,193.2 507.0,192.0 508.1,191.0" fill="none" stroke="#000" stroke-width="0.7"/>
<circle cx="402.6" cy="189.6" r="1.95" fill="#000"/>
<circle cx="436.7" cy="190.4" r="1.95" fill="#000"/>
<circle cx="452.5" cy="191.4" r="1.95" fill="#000"/>
<circle cx="462.9" cy="192.4" r="1.95" fill="#000"/>
<circle cx="470.7" cy="193.4" r="1.95" fill="#000"/>
<circle cx="477.0" cy="194.2" r="1.95" fill="#000"/>
<circle cx="482.1" cy="194.6" r="1.95" fill="#000"/>
<circle cx="486.6" cy="195.0" r="1.95" fill="#000"/>
<circle cx="490.5" cy="195.0" r="1.95" fill="#000"/>
<circle cx="493.9" cy="195.0" r="1.95" fill="#000"/>
<circle cx="497.0" cy="194.8" r="1.95" fill="#000"/>
<circle cx="499.8" cy="194.4" r="1.95" fill="#000"/>
<circle cx="502.4" cy="194.0" r="1.95" fill="#000"/>
<circle cx="504.8" cy="193.2" r="1.95" fill="#000"/>
<circle cx="507.0" cy="192.0" r="1.95" fill="#000"/>
<circle cx="508.1" cy="191.0" r="1.95" fill="#000"/>
<polyline points="402.6,287.3 436.7,286.0 452.5,284.8 462.9,283.5 470.7,282.5 477.0,281.0 482.1,278.5 486.6,276.0 490.5,273.0 493.9,269.2 497.0,264.9 499.8,260.4 502.4,255.8 504.8,251.3 507.0,246.5 508.1,244.0" fill="none" stroke="#e0101c" stroke-width="0.7"/>
<rect x="400.85" y="285.55" width="3.5" height="3.5" fill="#e0101c"/>
<rect x="434.92" y="284.25" width="3.5" height="3.5" fill="#e0101c"/>
<rect x="450.76" y="283.05" width="3.5" height="3.5" fill="#e0101c"/>
<rect x="461.19" y="281.75" width="3.5" height="3.5" fill="#e0101c"/>
<rect x="468.98" y="280.75" width="3.5" height="3.5" fill="#e0101c"/>
<rect x="475.21" y="279.25" width="3.5" height="3.5" fill="#e0101c"/>
<rect x="480.39" y="276.75" width="3.5" height="3.5" fill="#e0101c"/>
<rect x="484.82" y="274.25" width="3.5" height="3.5" fill="#e0101c"/>
<rect x="488.70" y="271.25" width="3.5" height="3.5" fill="#e0101c"/>
<rect x="492.15" y="267.45" width="3.5" height="3.5" fill="#e0101c"/>
<rect x="495.26" y="263.15" width="3.5" height="3.5" fill="#e0101c"/>
<rect x="498.08" y="258.65" width="3.5" height="3.5" fill="#e0101c"/>
<rect x="500.66" y="254.05" width="3.5" height="3.5" fill="#e0101c"/>
<rect x="503.05" y="249.55" width="3.5" height="3.5" fill="#e0101c"/>
<rect x="505.27" y="244.75" width="3.5" height="3.5" fill="#e0101c"/>
<rect x="506.32" y="242.25" width="3.5" height="3.5" fill="#e0101c"/>
<text x="377" y="195.6" font-size="8.6" fill="#222">10<tspan font-size="5.8" dy="-3.4">3</tspan></text>
<text x="377" y="271.6" font-size="8.6" fill="#222">10<tspan font-size="5.8" dy="-3.4">2</tspan></text>
<text x="377" y="347.4" font-size="8.6" fill="#222">10<tspan font-size="5.8" dy="-3.4">1</tspan></text>
<text x="403.5" y="356.4" font-size="8.3" fill="#222" text-anchor="middle" >10</text>
<text x="474.6" y="356.4" font-size="8.3" fill="#222" text-anchor="middle" >100</text>
<text x="456.3" y="370.0" font-size="12.3" fill="#222" text-anchor="middle" >Temperature (K)</text>
<text transform="translate(367.7,272.4) rotate(-90)" font-size="13.2" fill="#222">R<tspan font-size="8.4" dy="2.8">s</tspan><tspan dy="-2.8" font-size="9"> </tspan><tspan letter-spacing="0.35">(Ω/</tspan><tspan font-size="9.5" dy="-1.2">□</tspan><tspan dy="1.2">)</tspan></text>
<text x="357.8" y="147.3" font-size="12.6" fill="#222" text-anchor="start" >(f)</text>
</g>
</svg>
</body></html>
